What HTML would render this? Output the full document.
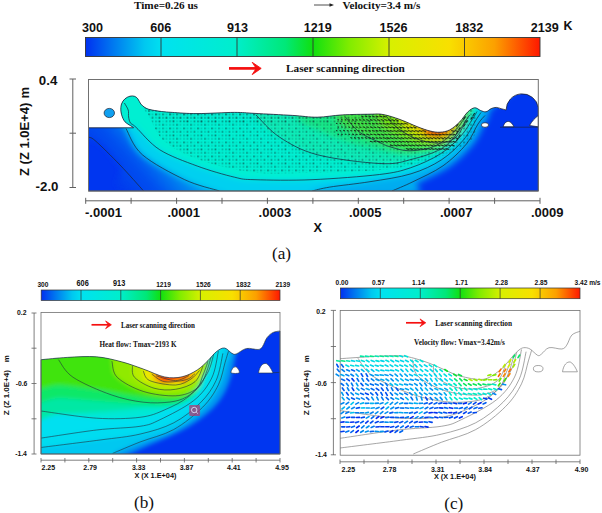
<!DOCTYPE html><html><head><meta charset="utf-8"><style>html,body{margin:0;padding:0;background:#fff;width:602px;height:513px;overflow:hidden;position:relative}</style></head><body><svg width="602" height="513" viewBox="0 0 602 513" style="position:absolute;left:0;top:0"><defs><linearGradient id="cmap" x1="0" y1="0" x2="1" y2="0"><stop offset="0" stop-color="#0030f0"/><stop offset="0.06" stop-color="#0078f0"/><stop offset="0.13" stop-color="#00c8f0"/><stop offset="0.17" stop-color="#00e2f0"/><stop offset="0.33" stop-color="#00eecc"/><stop offset="0.44" stop-color="#00e878"/><stop offset="0.5" stop-color="#10e010"/><stop offset="0.58" stop-color="#80ec00"/><stop offset="0.67" stop-color="#d8f000"/><stop offset="0.8" stop-color="#f8e000"/><stop offset="0.9" stop-color="#fca000"/><stop offset="1" stop-color="#ff1800"/></linearGradient><filter id="blA" x="-20%" y="-20%" width="140%" height="140%"><feGaussianBlur stdDeviation="3"/></filter><filter id="blB" x="-20%" y="-20%" width="140%" height="140%"><feGaussianBlur stdDeviation="2"/></filter><pattern id="dots" x="0.3" y="0.6" width="14" height="14" patternUnits="userSpaceOnUse"><rect x="1.0" y="1.0" width="1.5" height="1.5" fill="#0a3030" fill-opacity="0.72"/><rect x="1.0" y="4.5" width="1.5" height="1.5" fill="#0a3030" fill-opacity="0.21"/><rect x="1.0" y="8.0" width="1.5" height="1.5" fill="#0a3030" fill-opacity="0.47"/><rect x="1.0" y="11.5" width="1.5" height="1.5" fill="#0a3030" fill-opacity="0.30"/><rect x="4.5" y="1.0" width="1.5" height="1.5" fill="#0a3030" fill-opacity="0.26"/><rect x="4.5" y="4.5" width="1.5" height="1.5" fill="#0a3030" fill-opacity="0.59"/><rect x="4.5" y="8.0" width="1.5" height="1.5" fill="#0a3030" fill-opacity="0.77"/><rect x="4.5" y="11.5" width="1.5" height="1.5" fill="#0a3030" fill-opacity="0.38"/><rect x="8.0" y="1.0" width="1.5" height="1.5" fill="#0a3030" fill-opacity="0.51"/><rect x="8.0" y="4.5" width="1.5" height="1.5" fill="#0a3030" fill-opacity="0.34"/><rect x="8.0" y="8.0" width="1.5" height="1.5" fill="#0a3030" fill-opacity="0.17"/><rect x="8.0" y="11.5" width="1.5" height="1.5" fill="#0a3030" fill-opacity="0.68"/><rect x="11.5" y="1.0" width="1.5" height="1.5" fill="#0a3030" fill-opacity="0.17"/><rect x="11.5" y="4.5" width="1.5" height="1.5" fill="#0a3030" fill-opacity="0.64"/><rect x="11.5" y="8.0" width="1.5" height="1.5" fill="#0a3030" fill-opacity="0.42"/><rect x="11.5" y="11.5" width="1.5" height="1.5" fill="#0a3030" fill-opacity="0.26"/></pattern><clipPath id="clipA"><path d="M88.5,191 L88.5,127.8 L133.6,127.8 C133.6,127.3 130.8,126 129,124.8 C127.2,123.6 125.3,122.6 124,120.5 C122.7,118.4 121.4,114.8 121,112 C120.6,109.2 120.8,106.2 121.5,104 C122.2,101.8 123.6,100.1 125,98.8 C126.4,97.5 128.4,96.6 130,96.2 C131.6,95.8 133.2,95.9 134.5,96.3 C135.8,96.7 136.8,97.5 137.8,98.8 C138.9,100.1 139.6,102.5 140.8,104 C142,105.5 143.5,106.7 145,107.6 C146.5,108.5 147.5,109 150,109.6 C152.5,110.2 156.3,110.8 160,111.3 C163.7,111.8 166,112 172.2,112.4 C178.4,112.8 186.6,113.6 197,113.6 C207.4,113.6 224.8,112.4 234.5,112.4 C244.2,112.4 245.4,112.9 255,113.4 C264.6,113.9 281.9,114.8 292.3,115.4 C302.7,116 308.9,117.3 317.2,117.2 C325.5,117.1 333.3,115.4 342.1,114.9 C350.9,114.4 363.2,114.3 370,114.2 C376.8,114.1 378,113.6 383,114.5 C388,115.4 394.2,117.4 400,119.5 C405.8,121.6 413,125.1 418,127 C423,128.9 426.3,130.1 430,131 C433.7,131.9 436.7,132.4 440,132.2 C443.3,132 446.4,131.6 449.7,129.9 C453,128.2 456.7,124.9 459.7,121.9 C462.7,118.9 465.2,114.3 467.7,112 C470.2,109.7 472.5,108 474.6,107.8 C476.8,107.5 478.7,109.8 480.6,110.5 C482.5,111.2 484.2,112.1 486,111.8 C487.8,111.5 489.5,109.3 491.2,108.6 C492.9,107.9 494.5,107.4 496.2,107.4 C497.9,107.4 499.5,108.3 501.1,108.7 C502.8,109.1 505.3,109.8 506.1,110 A16.2,16.2 0 0 1 538.3,107.5 L538.3,191 Z"/></clipPath><clipPath id="clipB"><path d="M41,454 L41,359.7 C45.4,359.3 58,357.9 67.3,357.4 C76.5,356.9 87.5,356.1 96.5,356.8 C105.5,357.5 113.8,359.8 121.6,361.8 C129.4,363.8 136,366.5 143.2,369 C150.4,371.5 158.3,375.7 164.8,377 C171.3,378.3 176.7,378 182.1,376.8 C187.5,375.6 192.9,372.7 197.2,370 C201.5,367.3 204.8,363.6 208,360.5 C211.2,357.4 213.8,353.6 216.6,351.5 C219.3,349.4 222,347.7 224.5,348 C227,348.3 229.9,352.2 231.8,353.2 C233.8,354.2 233.8,354.8 236.2,354 C238.6,353.2 242.8,349.2 246.4,348.5 C250.1,347.8 255.4,349.8 258.1,349.5 C260.8,349.2 261,348.4 262.5,346.5 C264,344.6 265.1,340.1 266.9,337.8 C268.6,335.5 270.8,333.6 273,332.5 C275.2,331.4 278.8,331.2 280,331 L280,454 Z"/></clipPath><clipPath id="clipC"><path d="M340,455.2 L340,358.7 C345.8,358.3 365,356.9 375,356.4 C385,355.9 393.3,355.4 400,355.8 C406.7,356.2 410,357.2 415,358.5 C420,359.8 425,361.6 430,363.5 C435,365.4 440,367.9 445,370 C450,372.1 453.7,374.4 460,376 C466.3,377.6 476.5,380.2 483,379.4 C489.5,378.6 495,373.7 499,371 C503,368.3 504.6,365.6 507,363 C509.4,360.4 511.5,357.5 513.5,355.3 C515.5,353.1 517.3,351.3 519,350 C520.7,348.7 521.9,347.9 523.7,347.7 C525.5,347.5 527.7,347.7 530,349 C532.3,350.3 535.7,354.4 537.6,355.3 C539.5,356.2 539.5,355.4 541.4,354.1 C543.3,352.8 545.6,348.6 549,347.7 C552.4,346.8 558.8,349.4 561.7,349 C564.7,348.6 565,347.5 566.7,345.2 C568.4,342.9 569.6,337.4 571.8,335.1 C574,332.8 578.6,331.9 580,331.3 L580,455.2 Z"/></clipPath><linearGradient id="gA1" gradientUnits="userSpaceOnUse" x1="92" y1="188" x2="158" y2="130"><stop offset="0" stop-color="#002cea"/><stop offset="0.55" stop-color="#0050f0"/><stop offset="1" stop-color="#00acf0"/></linearGradient></defs><rect width="602" height="513" fill="#ffffff"/><text x="134" y="9.2" style="font-family:'Liberation Serif',serif;font-weight:bold;font-size:11.2px" fill="#111" >Time=0.26 us</text><line x1="314" y1="5" x2="331" y2="5" stroke="#222" stroke-width="0.8"/><path d="M334,5 L329.5,3.2 L329.5,6.8 Z" fill="#222"/><text x="342.4" y="9.2" style="font-family:'Liberation Serif',serif;font-weight:bold;font-size:11.2px" fill="#111" >Velocity=3.4 m/s</text><rect x="85.5" y="37.5" width="454.5" height="19" fill="url(#cmap)" stroke="#333" stroke-width="0.9"/><line x1="161" y1="37.5" x2="161" y2="56.5" stroke="#333" stroke-width="0.9"/><line x1="237" y1="37.5" x2="237" y2="56.5" stroke="#333" stroke-width="0.9"/><line x1="313" y1="37.5" x2="313" y2="56.5" stroke="#333" stroke-width="0.9"/><line x1="389" y1="37.5" x2="389" y2="56.5" stroke="#333" stroke-width="0.9"/><line x1="464.5" y1="37.5" x2="464.5" y2="56.5" stroke="#333" stroke-width="0.9"/><text x="82" y="32.2" style="font-family:'Liberation Sans',sans-serif;font-weight:bold;font-size:12.6px" fill="#111" >300</text><text x="150.2" y="32.2" style="font-family:'Liberation Sans',sans-serif;font-weight:bold;font-size:12.6px" fill="#111" >606</text><text x="227" y="32.2" style="font-family:'Liberation Sans',sans-serif;font-weight:bold;font-size:12.6px" fill="#111" >913</text><text x="303.8" y="32.2" style="font-family:'Liberation Sans',sans-serif;font-weight:bold;font-size:12.6px" fill="#111" >1219</text><text x="379.4" y="32.2" style="font-family:'Liberation Sans',sans-serif;font-weight:bold;font-size:12.6px" fill="#111" >1526</text><text x="455.3" y="32.2" style="font-family:'Liberation Sans',sans-serif;font-weight:bold;font-size:12.6px" fill="#111" >1832</text><text x="530.7" y="32.2" style="font-family:'Liberation Sans',sans-serif;font-weight:bold;font-size:12.6px" fill="#111" >2139</text><text x="563.6" y="29.8" style="font-family:'Liberation Sans',sans-serif;font-weight:bold;font-size:12.4px" fill="#111" >K</text><line x1="229" y1="68.4" x2="257" y2="68.4" stroke="#f51010" stroke-width="2.7"/><path d="M252.2,62.3 L261.2,68.4 L252.2,74.6 L256.2,68.4 Z" fill="#f51010" stroke="#f51010" stroke-width="0.9" stroke-linejoin="round"/><text x="286" y="71.6" style="font-family:'Liberation Serif',serif;font-weight:bold;font-size:11.3px" fill="#111" >Laser scanning direction</text><g clip-path="url(#clipA)"><path d="M88.5,191 L88.5,127.8 L133.6,127.8 C133.6,127.3 130.8,126 129,124.8 C127.2,123.6 125.3,122.6 124,120.5 C122.7,118.4 121.4,114.8 121,112 C120.6,109.2 120.8,106.2 121.5,104 C122.2,101.8 123.6,100.1 125,98.8 C126.4,97.5 128.4,96.6 130,96.2 C131.6,95.8 133.2,95.9 134.5,96.3 C135.8,96.7 136.8,97.5 137.8,98.8 C138.9,100.1 139.6,102.5 140.8,104 C142,105.5 143.5,106.7 145,107.6 C146.5,108.5 147.5,109 150,109.6 C152.5,110.2 156.3,110.8 160,111.3 C163.7,111.8 166,112 172.2,112.4 C178.4,112.8 186.6,113.6 197,113.6 C207.4,113.6 224.8,112.4 234.5,112.4 C244.2,112.4 245.4,112.9 255,113.4 C264.6,113.9 281.9,114.8 292.3,115.4 C302.7,116 308.9,117.3 317.2,117.2 C325.5,117.1 333.3,115.4 342.1,114.9 C350.9,114.4 363.2,114.3 370,114.2 C376.8,114.1 378,113.6 383,114.5 C388,115.4 394.2,117.4 400,119.5 C405.8,121.6 413,125.1 418,127 C423,128.9 426.3,130.1 430,131 C433.7,131.9 436.7,132.4 440,132.2 C443.3,132 446.4,131.6 449.7,129.9 C453,128.2 456.7,124.9 459.7,121.9 C462.7,118.9 465.2,114.3 467.7,112 C470.2,109.7 472.5,108 474.6,107.8 C476.8,107.5 478.7,109.8 480.6,110.5 C482.5,111.2 484.2,112.1 486,111.8 C487.8,111.5 489.5,109.3 491.2,108.6 C492.9,107.9 494.5,107.4 496.2,107.4 C497.9,107.4 499.5,108.3 501.1,108.7 C502.8,109.1 505.3,109.8 506.1,110 A16.2,16.2 0 0 1 538.3,107.5 L538.3,191 Z" fill="#0036f0"/><g filter="url(#blA)"><path d="M60,60 C-12.5,72.7 54.2,122.7 60,136 C65.8,149.3 85,135.2 95,140 C105,144.8 111.9,155.8 120,165 C128.1,174.2 97.6,190 143.6,195 C189.6,200 350.3,197 396,195 C441.7,193 409,187.8 418,183 C427,178.2 440.8,172.5 450,166 C459.2,159.5 467.3,151 473,144 C478.7,137 481.3,129.2 484,124 C486.7,118.8 487.2,123.7 489,113 C490.8,102.3 566.5,68.8 495,60 C423.5,51.2 132.5,47.3 60,60 Z" fill="url(#gA1)"/><path d="M100,60 C38,66.7 110.7,88.6 115,100 C119.3,111.4 121.5,119.5 126,128.6 C130.6,137.7 132.5,146.2 142.3,154.7 C152.1,163.2 171.8,173.5 184.7,179.7 C197.6,185.9 210.4,189.1 219.6,192 C228.8,194.9 226.6,196.2 240,197 C253.4,197.8 288,197.8 300,197 C312,196.2 307.2,193.7 312.2,192 C317.1,190.3 320.1,188.8 329.7,187.1 C339.3,185.4 356.3,183.9 370,181.7 C383.7,179.5 399.8,177.5 412,173.8 C424.2,170.2 434.2,165.5 443,159.8 C451.8,154.2 459.3,146.9 465,139.9 C470.7,132.9 474.3,123.7 477,118 C479.7,112.3 479.3,115.7 481,106 C482.7,96.3 550.5,67.7 487,60 C423.5,52.3 162,53.3 100,60 Z" fill="#00d0f0"/><path d="M112,60 C50.5,66.7 113,90.3 114,100 C115,109.7 115.7,113.7 118,118 C120.3,122.3 125,124.5 128,126 C131,127.5 130.7,123.3 136,127.3 C141.3,131.3 149.6,143.4 159.8,149.8 C170,156.2 184.7,161.4 197.1,166 C209.5,170.6 224.8,174.9 234.5,177.2 C244.2,179.5 242.1,179.3 255,179.7 C267.9,180.1 291.2,180.6 312,179.7 C332.8,178.8 363,176.5 379.5,174.5 C396,172.5 400.8,171.2 411,167.8 C421.2,164.4 432.5,159.1 441,153.8 C449.5,148.5 456.5,142.2 462,135.9 C467.5,129.6 471.3,121.3 474,116 C476.7,110.7 476.5,113.3 478,104 C479.5,94.7 544,67.3 483,60 C422,52.7 173.5,53.3 112,60 Z" fill="#06efd2"/><path d="M250,60 C213,69.2 251,102.1 256,115 C261,127.9 269.6,130.7 279.8,137.3 C290,143.9 300.6,150.3 317.2,154.7 C333.8,159.1 364.1,162.7 379.5,163.5 C394.9,164.3 398.9,162.8 409.9,159.8 C420.9,156.9 435.7,153.3 445.7,145.8 C455.7,138.3 465.1,122.1 469.7,115 C474.2,107.9 471.6,112.2 473,103 C474.4,93.8 515.2,67.2 478,60 C440.8,52.8 287,50.8 250,60 Z" fill="#08ecb8"/><path d="M288,60 C257.7,69.2 290.7,103.2 296,115 C301.3,126.8 311,126.3 320,131 C329,135.7 340.1,139.8 350,143 C359.9,146.2 369.5,148 379.5,150 C389.5,152 398.9,155.5 409.9,155 C420.9,154.5 435.7,153.7 445.7,147 C455.7,140.3 465.1,122.3 469.7,115 C474.2,107.7 471.6,112.2 473,103 C474.4,93.8 508.8,67.2 478,60 C447.2,52.8 318.3,50.8 288,60 Z" fill="#18e888"/><path d="M325,60 C302,69.3 331.5,104.3 336,116.1 C340.5,127.9 344.8,126.6 352,131 C359.2,135.4 373.2,139.7 379.5,142.3 C385.8,144.9 384.9,145.4 390,146.8 C395.1,148.2 402.3,151 409.9,150.8 C417.5,150.6 428.2,149.3 435.8,145.8 C443.4,142.3 450.7,134.9 455.7,129.9 C460.7,124.9 463.3,120.5 465.7,116 C468.1,111.5 468.6,112.3 470,103 C471.4,93.7 498.2,67.2 474,60 C449.8,52.8 348,50.6 325,60 Z" fill="#40e448"/><path d="M370,60 C354.7,69.7 373.8,105.7 378,118 C382.2,130.3 388,129.7 395,134 C402,138.3 412.2,142.2 420,144 C427.8,145.8 435.7,146.8 442,145 C448.3,143.2 454,138 458,133 C462,128 464,127.2 466,115 C468,102.8 486,69.2 470,60 C454,50.8 385.3,50.3 370,60 Z" fill="#78e818"/><path d="M395,100 C386.5,104 399.2,118.3 402,124 C404.8,129.7 407.8,131.5 412,134 C416.2,136.5 422,138 427,139 C432,140 438,140.8 442,140 C446,139.2 448.8,136.7 451,134 C453.2,131.3 454.7,129.7 455,124 C455.3,118.3 463,104 453,100 C443,96 403.5,96 395,100 Z" fill="#e0e800"/><path d="M412,110 C406.7,113 416.7,123.8 420,128 C423.3,132.2 427.7,133.8 432,135 C436.3,136.2 442.3,136.3 446,135 C449.7,133.7 453,131.2 454,127 C455,122.8 459,112.8 452,110 C445,107.2 417.3,107 412,110 Z" fill="#ff8800"/><ellipse cx="436" cy="133.2" rx="12" ry="3.6" fill="#f02800"/></g><path d="M148,107 C156.3,106 174.7,111 200,112 C225.3,113 270,113 300,113 C330,113 360,110 380,112 C400,114 405,125.7 420,125 C435,124.3 461.3,105.5 470,108 C478.7,110.5 478.7,131.3 472,140 C465.3,148.7 445.3,155 430,160 C414.7,165 401.7,167.8 380,170 C358.3,172.2 321.7,172.7 300,173 C278.3,173.3 266.7,174.2 250,172 C233.3,169.8 214.2,165 200,160 C185.8,155 173.3,149 165,142 C156.7,135 152.8,123.8 150,118 C147.2,112.2 139.7,108 148,107 Z" fill="url(#dots)"/><path d="M150,108 C157.5,107 175,111.2 200,112 C225,112.8 270,113 300,113 C330,113 360,110 380,112 C400,114 416.7,122 420,125 C423.3,128 406.7,130.2 400,130 C393.3,129.8 396.7,125 380,124 C363.3,123 330,124.2 300,124 C270,123.8 224.2,124 200,123 C175.8,122 163.3,120.5 155,118 C146.7,115.5 142.5,109 150,108 Z" fill="url(#dots)" opacity="0.6"/><path d="M361.2,116.0l2.3,0.7M364.8,116.0l2.5,0.8M368.4,116.0l2.6,0.8M372.0,116.0l2.8,0.9M375.6,116.0l2.9,0.9M379.2,116.0l3.0,0.9M382.8,116.0l3.2,1.0M472.8,116.0l1.9,-3.0M337.5,119.6l1.5,0.5M341.1,119.6l1.6,0.5M344.7,119.6l1.7,0.5M348.3,119.6l1.8,0.6M351.9,119.6l2.0,0.6M355.5,119.6l2.1,0.7M359.1,119.6l2.3,0.7M362.7,119.6l2.4,0.7M366.3,119.6l2.5,0.8M369.9,119.6l2.7,0.8M373.5,119.6l2.8,0.9M377.1,119.6l2.9,0.9M380.7,119.6l3.1,1.0M384.3,119.6l3.2,1.0M387.9,119.6l3.4,1.0M391.5,119.6l3.4,1.1M395.1,119.6l3.4,1.1M463.5,119.6l1.9,-3.0M470.7,119.6l1.9,-3.0M336.0,123.2l1.5,0.5M339.6,123.2l1.5,0.5M343.2,123.2l1.7,0.5M346.8,123.2l1.8,0.6M350.4,123.2l1.9,0.6M354.0,123.2l2.1,0.6M357.6,123.2l2.2,0.7M361.2,123.2l2.3,0.7M364.8,123.2l2.5,0.8M368.4,123.2l2.6,0.8M372.0,123.2l2.8,0.9M375.6,123.2l2.9,0.9M379.2,123.2l3.0,0.9M382.8,123.2l3.2,1.0M386.4,123.2l3.3,1.0M390.0,123.2l3.4,1.1M393.6,123.2l3.4,1.1M397.2,123.2l3.4,1.1M400.8,123.2l3.4,1.1M404.4,123.2l3.4,1.1M465.6,123.2l1.9,-3.0M337.5,126.8l1.5,0.5M341.1,126.8l1.6,0.5M344.7,126.8l1.7,0.5M348.3,126.8l1.8,0.6M351.9,126.8l2.0,0.6M355.5,126.8l2.1,0.7M359.1,126.8l2.3,0.7M362.7,126.8l2.4,0.7M366.3,126.8l2.5,0.8M369.9,126.8l2.7,0.8M373.5,126.8l2.8,0.9M377.1,126.8l2.9,0.9M380.7,126.8l3.1,1.0M384.3,126.8l3.2,1.0M387.9,126.8l3.4,1.0M391.5,126.8l3.4,1.1M395.1,126.8l3.4,1.1M398.7,126.8l3.4,1.1M402.3,126.8l3.4,1.1M405.9,126.8l3.4,1.1M409.5,126.8l3.4,1.1M413.1,126.8l3.4,1.1M456.3,126.8l1.9,-3.0M463.5,126.8l1.9,-3.0M336.0,130.4l1.5,0.5M339.6,130.4l1.5,0.5M343.2,130.4l1.7,0.5M346.8,130.4l1.8,0.6M350.4,130.4l1.9,0.6M354.0,130.4l2.1,0.6M357.6,130.4l2.2,0.7M361.2,130.4l2.3,0.7M364.8,130.4l2.5,0.8M368.4,130.4l2.6,0.8M372.0,130.4l2.8,0.9M375.6,130.4l2.9,0.9M379.2,130.4l3.0,0.9M382.8,130.4l3.2,1.0M386.4,130.4l3.3,1.0M390.0,130.4l3.4,1.1M393.6,130.4l3.4,1.1M397.2,130.4l3.4,1.1M400.8,130.4l3.4,1.1M404.4,130.4l3.4,1.1M408.0,130.4l3.4,1.1M411.6,130.4l3.4,1.1M415.2,130.4l3.4,1.1M418.8,130.4l3.4,1.1M422.4,130.4l3.4,1.1M451.2,130.4l3.4,1.1M454.8,130.4l3.4,1.1M458.4,130.4l1.9,-3.0M337.5,134.0l1.5,0.5M341.1,134.0l1.6,0.5M344.7,134.0l1.7,0.5M348.3,134.0l1.8,0.6M351.9,134.0l2.0,0.6M355.5,134.0l2.1,0.7M359.1,134.0l2.3,0.7M362.7,134.0l2.4,0.7M366.3,134.0l2.5,0.8M369.9,134.0l2.7,0.8M373.5,134.0l2.8,0.9M377.1,134.0l2.9,0.9M380.7,134.0l3.1,1.0M384.3,134.0l3.2,1.0M387.9,134.0l3.4,1.0M391.5,134.0l3.4,1.1M395.1,134.0l3.4,1.1M398.7,134.0l3.4,1.1M402.3,134.0l3.4,1.1M405.9,134.0l3.4,1.1M409.5,134.0l3.4,1.1M413.1,134.0l3.4,1.1M416.7,134.0l3.4,1.1M420.3,134.0l3.4,1.1M423.9,134.0l3.4,1.1M427.5,134.0l3.4,1.1M431.1,134.0l3.4,1.1M434.7,134.0l3.4,1.1M438.3,134.0l3.4,1.1M441.9,134.0l3.4,1.1M445.5,134.0l3.4,1.1M449.1,134.0l3.4,1.1M452.7,134.0l3.4,1.1M456.3,134.0l1.9,-3.0M350.4,137.6l1.9,0.6M354.0,137.6l2.1,0.6M357.6,137.6l2.2,0.7M361.2,137.6l2.3,0.7M364.8,137.6l2.5,0.8M368.4,137.6l2.6,0.8M372.0,137.6l2.8,0.9M375.6,137.6l2.9,0.9M379.2,137.6l3.0,0.9M382.8,137.6l3.2,1.0M386.4,137.6l3.3,1.0M390.0,137.6l3.4,1.1M393.6,137.6l3.4,1.1M397.2,137.6l3.4,1.1M400.8,137.6l3.4,1.1M404.4,137.6l3.4,1.1M408.0,137.6l3.4,1.1M411.6,137.6l3.4,1.1M415.2,137.6l3.4,1.1M418.8,137.6l3.4,1.1M422.4,137.6l3.4,1.1M426.0,137.6l3.4,1.1M429.6,137.6l3.4,1.1M433.2,137.6l3.4,1.1M436.8,137.6l3.4,1.1M440.4,137.6l3.4,1.1M444.0,137.6l3.4,1.1M447.6,137.6l3.4,1.1M451.2,137.6l3.4,1.1M454.8,137.6l3.4,1.1M458.4,137.6l1.9,-3.0M369.9,141.2l2.7,0.8M373.5,141.2l2.8,0.9M377.1,141.2l2.9,0.9M380.7,141.2l3.1,1.0M384.3,141.2l3.2,1.0M387.9,141.2l3.4,1.0M391.5,141.2l3.4,1.1M395.1,141.2l3.4,1.1M398.7,141.2l3.4,1.1M402.3,141.2l3.4,1.1M405.9,141.2l3.4,1.1M409.5,141.2l3.4,1.1M413.1,141.2l3.4,1.1M416.7,141.2l3.4,1.1M420.3,141.2l3.4,1.1M423.9,141.2l3.4,1.1M427.5,141.2l3.4,1.1M431.1,141.2l3.4,1.1M434.7,141.2l3.4,1.1M438.3,141.2l3.4,1.1M441.9,141.2l3.4,1.1M445.5,141.2l3.4,1.1M449.1,141.2l3.4,1.1M452.7,141.2l3.4,1.1M456.3,141.2l1.9,-3.0M390.0,144.8l3.4,1.1M393.6,144.8l3.4,1.1M397.2,144.8l3.4,1.1M400.8,144.8l3.4,1.1M404.4,144.8l3.4,1.1M408.0,144.8l3.4,1.1M411.6,144.8l3.4,1.1M415.2,144.8l3.4,1.1M418.8,144.8l3.4,1.1M422.4,144.8l3.4,1.1M426.0,144.8l3.4,1.1M429.6,144.8l3.4,1.1M433.2,144.8l3.4,1.1M436.8,144.8l3.4,1.1M440.4,144.8l3.4,1.1M444.0,144.8l3.4,1.1M447.6,144.8l3.4,1.1M451.2,144.8l3.4,1.1M405.9,148.4l3.4,1.1M409.5,148.4l3.4,1.1M413.1,148.4l3.4,1.1M416.7,148.4l3.4,1.1M420.3,148.4l3.4,1.1M423.9,148.4l3.4,1.1M427.5,148.4l3.4,1.1M431.1,148.4l3.4,1.1M434.7,148.4l3.4,1.1M438.3,148.4l3.4,1.1M441.9,148.4l3.4,1.1M445.5,148.4l3.4,1.1" stroke="#101810" stroke-width="1.1" fill="none" stroke-opacity="0.85"/><path d="M88,137.5 C89.2,138 89.7,135.9 95,140.5 C100.3,145.1 111.9,156.6 120,165 C128.1,173.4 139.7,186.7 143.6,191" fill="none" stroke="#1a2a40" stroke-width="0.75"/><path d="M126,128.6 C128.7,132.9 132.5,146.2 142.3,154.7 C152.1,163.2 171.8,173.6 184.7,179.7 C197.6,185.8 213.8,189.1 219.6,191" fill="none" stroke="#1a2a40" stroke-width="0.75"/><path d="M312.2,191 C315.1,190.3 320.1,188.7 329.7,187.1 C339.3,185.5 356.4,183.9 370,181.7 C383.6,179.5 399.1,177.5 411,173.8 C422.9,170.2 432.8,165.5 441.5,159.8 C450.2,154.2 457.8,146.5 463.5,139.9 C469.2,133.3 473.1,124.6 476,120 C478.9,115.4 480.2,113.8 481,112.5" fill="none" stroke="#1a2a40" stroke-width="0.75"/><path d="M124.4,103 C125,104.2 127.5,107.7 128.2,110 C128.9,112.3 128.2,114.8 128.6,117 C129,119.2 129.3,121.3 130.5,123 C131.7,124.7 131.1,122.8 136,127.3 C140.9,131.8 149.6,143.4 159.8,149.8 C170,156.2 184.7,161.4 197.1,166 C209.5,170.6 224.8,174.9 234.5,177.2 C244.2,179.5 242.1,179.3 255,179.7 C267.9,180.1 291.2,180.6 312,179.7 C332.8,178.8 363.1,176.5 379.5,174.5 C395.9,172.5 400.3,171.2 410.5,167.8 C420.7,164.4 432.1,159.1 440.5,153.8 C448.9,148.5 455.7,141.7 461,135.9 C466.3,130.1 469.8,123.1 472.5,119 C475.2,114.9 476.2,112.8 477,111.5" fill="none" stroke="#1a2a40" stroke-width="0.75"/><path d="M256,115 C260,118.7 269.6,130.7 279.8,137.3 C290,143.9 300.6,150.3 317.2,154.7 C333.8,159.1 364.1,162.7 379.5,163.5 C394.9,164.3 398.9,162.8 409.9,159.8 C420.9,156.9 435.7,153.3 445.7,145.8 C455.7,138.3 465.7,120.1 469.7,115" fill="none" stroke="#1a2a40" stroke-width="0.75"/><path d="M344.6,116.1 C347.1,118.8 353.8,127.9 359.6,132.3 C365.4,136.7 374.4,139.9 379.5,142.3 C384.6,144.7 384.9,145.4 390,146.8 C395.1,148.2 402.3,151 409.9,150.8 C417.5,150.6 428.2,149.3 435.8,145.8 C443.4,142.3 450.7,134.9 455.7,129.9 C460.7,124.9 464,118.3 465.7,116" fill="none" stroke="#1a2a40" stroke-width="0.75"/><path d="M392,191 C395.5,189.4 404.5,185.9 413,181.7 C421.5,177.5 434.1,172.1 443,165.8 C451.9,159.5 460.7,150.9 466.5,143.9 C472.3,136.9 474.9,128.7 478,124 C481.1,119.3 483.8,116.9 485,115.5" fill="none" stroke="#1a2a40" stroke-width="0.75"/><path d="M386,116 C388.3,118.3 394.3,126 400,130 C405.7,134 413,137.8 420,140 C427,142.2 435.8,143.7 442,143 C448.2,142.3 453,139.8 457,136 C461,132.2 464.5,122.7 466,120" fill="none" stroke="#1a2a40" stroke-width="0.75"/></g><path d="M88.5,191 L88.5,127.8 L133.6,127.8 C133.6,127.3 130.8,126 129,124.8 C127.2,123.6 125.3,122.6 124,120.5 C122.7,118.4 121.4,114.8 121,112 C120.6,109.2 120.8,106.2 121.5,104 C122.2,101.8 123.6,100.1 125,98.8 C126.4,97.5 128.4,96.6 130,96.2 C131.6,95.8 133.2,95.9 134.5,96.3 C135.8,96.7 136.8,97.5 137.8,98.8 C138.9,100.1 139.6,102.5 140.8,104 C142,105.5 143.5,106.7 145,107.6 C146.5,108.5 147.5,109 150,109.6 C152.5,110.2 156.3,110.8 160,111.3 C163.7,111.8 166,112 172.2,112.4 C178.4,112.8 186.6,113.6 197,113.6 C207.4,113.6 224.8,112.4 234.5,112.4 C244.2,112.4 245.4,112.9 255,113.4 C264.6,113.9 281.9,114.8 292.3,115.4 C302.7,116 308.9,117.3 317.2,117.2 C325.5,117.1 333.3,115.4 342.1,114.9 C350.9,114.4 363.2,114.3 370,114.2 C376.8,114.1 378,113.6 383,114.5 C388,115.4 394.2,117.4 400,119.5 C405.8,121.6 413,125.1 418,127 C423,128.9 426.3,130.1 430,131 C433.7,131.9 436.7,132.4 440,132.2 C443.3,132 446.4,131.6 449.7,129.9 C453,128.2 456.7,124.9 459.7,121.9 C462.7,118.9 465.2,114.3 467.7,112 C470.2,109.7 472.5,108 474.6,107.8 C476.8,107.5 478.7,109.8 480.6,110.5 C482.5,111.2 484.2,112.1 486,111.8 C487.8,111.5 489.5,109.3 491.2,108.6 C492.9,107.9 494.5,107.4 496.2,107.4 C497.9,107.4 499.5,108.3 501.1,108.7 C502.8,109.1 505.3,109.8 506.1,110 A16.2,16.2 0 0 1 538.3,107.5 L538.3,191 Z" fill="none" stroke="#1a2030" stroke-width="0.8"/><ellipse cx="109.3" cy="113" rx="5.2" ry="4.6" fill="#10a0f0" stroke="#1a2030" stroke-width="0.7"/><ellipse cx="485" cy="125" rx="3.6" ry="2.3" fill="#fff" stroke="#1a2030" stroke-width="0.7"/><path d="M503.2,126.8 C504.5,121 510,118.5 514,126.8 Z" fill="#fff" stroke="#1a2030" stroke-width="0.7"/><path d="M529.5,125.5 C532,121 535,118 538.3,115.5 L538.3,126.8 Z" fill="#fff" stroke="#1a2030" stroke-width="0.7"/><line x1="500" y1="127.2" x2="538" y2="127.2" stroke="#1a2030" stroke-width="0.6"/><rect x="88.5" y="79.5" width="449.8" height="111.5" fill="none" stroke="#707070" stroke-width="1"/><g stroke="#606060" stroke-width="1"><line x1="72.8" y1="79" x2="72.8" y2="187.5"/><line x1="69.5" y1="79" x2="76" y2="79"/><line x1="69.5" y1="133.2" x2="76" y2="133.2"/><line x1="69.5" y1="187.5" x2="76" y2="187.5"/></g><text x="38.8" y="84.8" style="font-family:'Liberation Sans',sans-serif;font-weight:bold;font-size:13.3px" fill="#111" >0.4</text><text x="35.6" y="190.8" style="font-family:'Liberation Sans',sans-serif;font-weight:bold;font-size:13.3px" fill="#111" >-2.0</text><text transform="translate(28.6,176) rotate(-90)" style="font-family:'Liberation Sans',sans-serif;font-weight:bold;font-size:13px" fill="#111">Z (Z 1.0E+4)</text><text transform="translate(28.6,98.5) rotate(-90)" style="font-family:'Liberation Sans',sans-serif;font-weight:bold;font-size:13px" fill="#111">m</text><g stroke="#606060" stroke-width="1"><line x1="85.7" y1="200.8" x2="540" y2="200.8"/><line x1="85.7" y1="197.8" x2="85.7" y2="203.8"/><line x1="131.1" y1="197.8" x2="131.1" y2="203.8"/><line x1="176.6" y1="197.8" x2="176.6" y2="203.8"/><line x1="222.0" y1="197.8" x2="222.0" y2="203.8"/><line x1="267.4" y1="197.8" x2="267.4" y2="203.8"/><line x1="312.9" y1="197.8" x2="312.9" y2="203.8"/><line x1="358.3" y1="197.8" x2="358.3" y2="203.8"/><line x1="403.7" y1="197.8" x2="403.7" y2="203.8"/><line x1="449.1" y1="197.8" x2="449.1" y2="203.8"/><line x1="494.6" y1="197.8" x2="494.6" y2="203.8"/><line x1="540.0" y1="197.8" x2="540.0" y2="203.8"/></g><text x="85" y="217.4" style="font-family:'Liberation Sans',sans-serif;font-weight:bold;font-size:13px" fill="#111" >-.0001</text><text x="167.5" y="217.4" style="font-family:'Liberation Sans',sans-serif;font-weight:bold;font-size:13px" fill="#111" >.0001</text><text x="258.6" y="217.4" style="font-family:'Liberation Sans',sans-serif;font-weight:bold;font-size:13px" fill="#111" >.0003</text><text x="349" y="217.4" style="font-family:'Liberation Sans',sans-serif;font-weight:bold;font-size:13px" fill="#111" >.0005</text><text x="440" y="217.4" style="font-family:'Liberation Sans',sans-serif;font-weight:bold;font-size:13px" fill="#111" >.0007</text><text x="531" y="217.4" style="font-family:'Liberation Sans',sans-serif;font-weight:bold;font-size:13px" fill="#111" >.0009</text><text x="313.4" y="231.5" style="font-family:'Liberation Sans',sans-serif;font-weight:bold;font-size:12.8px" fill="#111" >X</text><text x="272" y="258.7" style="font-family:'Liberation Serif',serif;font-size:17.2px" fill="#111" >(a)</text><rect x="41.2" y="290" width="238.8" height="10.4" fill="url(#cmap)" stroke="#333" stroke-width="0.7"/><line x1="81.0" y1="290" x2="81.0" y2="300.4" stroke="#333" stroke-width="0.7"/><line x1="120.8" y1="290" x2="120.8" y2="300.4" stroke="#333" stroke-width="0.7"/><line x1="160.6" y1="290" x2="160.6" y2="300.4" stroke="#333" stroke-width="0.7"/><line x1="200.4" y1="290" x2="200.4" y2="300.4" stroke="#333" stroke-width="0.7"/><line x1="240.2" y1="290" x2="240.2" y2="300.4" stroke="#333" stroke-width="0.7"/><text x="37.4" y="286.5" style="font-family:'Liberation Sans',sans-serif;font-weight:bold;font-size:6.6px" fill="#111" >300</text><text x="156.2" y="286.5" style="font-family:'Liberation Sans',sans-serif;font-weight:bold;font-size:6.6px" fill="#111" >1219</text><text x="196.1" y="286.5" style="font-family:'Liberation Sans',sans-serif;font-weight:bold;font-size:6.6px" fill="#111" >1526</text><text x="236" y="286.5" style="font-family:'Liberation Sans',sans-serif;font-weight:bold;font-size:6.6px" fill="#111" >1832</text><text x="275.4" y="286.5" style="font-family:'Liberation Sans',sans-serif;font-weight:bold;font-size:6.6px" fill="#111" >2139</text><text x="76.5" y="286.3" style="font-family:'Liberation Sans',sans-serif;font-weight:bold;font-size:8.6px" fill="#111" textLength="12.2" lengthAdjust="spacingAndGlyphs">606</text><text x="113" y="286.3" style="font-family:'Liberation Sans',sans-serif;font-weight:bold;font-size:8.6px" fill="#111" textLength="12.2" lengthAdjust="spacingAndGlyphs">913</text><g stroke="#606060" stroke-width="0.8"><line x1="34.1" y1="313" x2="34.1" y2="454"/><line x1="31.5" y1="313.0" x2="36.5" y2="313.0"/><line x1="31.5" y1="348.2" x2="36.5" y2="348.2"/><line x1="31.5" y1="383.5" x2="36.5" y2="383.5"/><line x1="31.5" y1="418.8" x2="36.5" y2="418.8"/><line x1="31.5" y1="454.0" x2="36.5" y2="454.0"/><line x1="41" y1="460.2" x2="280" y2="460.2"/><line x1="41.0" y1="458" x2="41.0" y2="462.5"/><line x1="64.9" y1="458" x2="64.9" y2="462.5"/><line x1="88.8" y1="458" x2="88.8" y2="462.5"/><line x1="112.7" y1="458" x2="112.7" y2="462.5"/><line x1="136.6" y1="458" x2="136.6" y2="462.5"/><line x1="160.5" y1="458" x2="160.5" y2="462.5"/><line x1="184.4" y1="458" x2="184.4" y2="462.5"/><line x1="208.3" y1="458" x2="208.3" y2="462.5"/><line x1="232.2" y1="458" x2="232.2" y2="462.5"/><line x1="256.1" y1="458" x2="256.1" y2="462.5"/><line x1="280.0" y1="458" x2="280.0" y2="462.5"/></g><g clip-path="url(#clipB)"><path d="M41,454 L41,359.7 C45.4,359.3 58,357.9 67.3,357.4 C76.5,356.9 87.5,356.1 96.5,356.8 C105.5,357.5 113.8,359.8 121.6,361.8 C129.4,363.8 136,366.5 143.2,369 C150.4,371.5 158.3,375.7 164.8,377 C171.3,378.3 176.7,378 182.1,376.8 C187.5,375.6 192.9,372.7 197.2,370 C201.5,367.3 204.8,363.6 208,360.5 C211.2,357.4 213.8,353.6 216.6,351.5 C219.3,349.4 222,347.7 224.5,348 C227,348.3 229.9,352.2 231.8,353.2 C233.8,354.2 233.8,354.8 236.2,354 C238.6,353.2 242.8,349.2 246.4,348.5 C250.1,347.8 255.4,349.8 258.1,349.5 C260.8,349.2 261,348.4 262.5,346.5 C264,344.6 265.1,340.1 266.9,337.8 C268.6,335.5 270.8,333.6 273,332.5 C275.2,331.4 278.8,331.2 280,331 L280,454 Z" fill="#0036f0"/><g filter="url(#blB)"><path d="M20,330 C-16.7,355 8.3,446.7 20,470 C31.7,493.3 73.3,472 90,470 C106.7,468 111.7,461.5 120,458 C128.3,454.5 129,454 140,449 C151,444 173.7,435 186,428 C198.3,421 207,414.2 214,407 C221,399.8 224.5,393.2 228,385 C231.5,376.8 233.2,365.5 235,358 C236.8,350.5 238.2,346.3 239,340 C239.8,333.7 276.5,321.7 240,320 C203.5,318.3 56.7,305 20,330 Z" fill="#0098f0"/><path d="M20,300 C-15.2,328.3 4.6,443 20,470 C35.4,497 96.8,464.8 112.6,462 C128.4,459.2 109.7,456.7 114.6,453.4 C119.5,450.1 131.8,446 142,442 C152.2,438 165.2,435.4 175.6,429.6 C186,423.8 197.2,414.7 204.7,407.2 C212.2,399.7 216.7,392.3 220.4,384.8 C224.1,377.3 225.4,368 227.1,362.4 C228.8,356.8 229.8,361.6 230.5,351.2 C231.2,340.8 266.1,308.5 231,300 C195.9,291.5 55.2,271.7 20,300 Z" fill="#00c8f0"/><path d="M20,300 C-14,324.6 16.5,422.9 20,447.5 C23.5,472.1 27.7,448.8 41,447.5 C54.3,446.2 83.5,442.2 100,440 C116.5,437.8 127.7,437 140,434.1 C152.3,431.2 163.5,428.1 173.6,422.9 C183.7,417.7 193.4,409.8 200.5,402.7 C207.6,395.6 212.5,388.5 216.2,380.3 C219.9,372.1 221.6,366.8 222.9,353.4 C224.2,340 257.7,308.9 223.9,300 C190.1,291.1 54,275.4 20,300 Z" fill="#00dcf0"/><path d="M20,300 C-13.2,323 16.5,415.1 20,438.1 C23.5,461.1 28.2,439.5 41,438.1 C53.8,436.8 80,432 96.5,430 C113,428 129.4,428 140,426.3 C150.6,424.6 151,424 160,419.7 C169,415.4 185.2,407.4 193.8,400.5 C202.4,393.6 207.6,386.3 211.7,378.1 C215.8,369.9 217.1,364.2 218.4,351.2 C219.7,338.2 252.5,308.5 219.4,300 C186.3,291.5 53.2,277 20,300 Z" fill="#00e0f0"/><path d="M20,300 C-12.5,318.5 16.5,392.5 20,411 C23.5,429.5 28.2,409.8 41,411 C53.8,412.2 80,417.1 96.5,418.2 C113,419.2 128.6,418.7 140,417.3 C151.4,415.9 156.6,413.4 164.8,409.8 C173,406.2 182.2,402 189.3,396 C196.4,390 203.1,380.7 207.2,373.6 C211.3,366.5 212.6,365.7 213.9,353.4 C215.2,341.1 247.2,308.9 214.9,300 C182.6,291.1 52.5,281.5 20,300 Z" fill="#00e8d4"/><path d="M20,300 C-11.7,319 13.3,395 20,414 C26.7,433 44.8,414.5 60,414 C75.2,413.5 97.2,412 111.1,411 C125,410 133.4,408.7 143.2,408 C153,407.3 162.8,408 170,407 C177.2,406 181.7,404.5 186.4,402 C191.1,399.5 194.9,396.2 198,392 C201.1,387.8 203.2,382.3 205,377 C206.8,371.7 208.2,372.8 209,360 C209.8,347.2 241.5,310 210,300 C178.5,290 51.7,281 20,300 Z" fill="#00e8a4"/><path d="M20,300 C-11.3,316.3 13.3,381.7 20,398 C26.7,414.3 44.8,397.3 60,398 C75.2,398.7 97.2,401 111.1,402 C125,403 133.4,403.7 143.2,404 C153,404.3 162.8,404.8 170,404 C177.2,403.2 182.1,401.3 186.4,399 C190.7,396.7 193.2,394 196,390 C198.8,386 201.2,380 203,375 C204.8,370 206.2,372.5 207,360 C207.8,347.5 239.2,310 208,300 C176.8,290 51.3,283.7 20,300 Z" fill="#10e868"/><path d="M20,300 C-11.2,314 13.3,369.8 20,384 C26.7,398.2 46.7,384 60,385 C73.3,386 86.1,388 100,390 C113.9,392 130.6,395.5 143.2,397 C155.8,398.5 167.5,399.8 175.6,399 C183.7,398.2 187.9,395.3 192,392 C196.1,388.7 197.8,383.3 200,379 C202.2,374.7 203.8,379.2 205,366 C206.2,352.8 237.8,311 207,300 C176.2,289 51.2,286 20,300 Z" fill="#40e410"/><path d="M108.9,300 C92.7,310.2 110.5,348.3 111.9,361.2 C113.3,374.1 112.1,372.4 117.3,377.4 C122.5,382.4 133.5,388.3 143.2,391.4 C152.9,394.5 166.8,396.2 175.6,395.8 C184.4,395.4 191.4,392.5 196,389 C200.6,385.5 201,379.6 203,375 C205,370.4 207,373.9 208,361.4 C209,348.9 225.5,310.2 209,300 C192.5,289.8 125.1,289.8 108.9,300 Z" fill="#90ea00"/><path d="M129.4,300 C117.5,310.9 131.5,352.6 132.4,365.5 C133.3,378.4 131,373.6 134.6,377.4 C138.2,381.2 147.2,386.2 154,388.2 C160.8,390.2 168.8,390.4 175.6,389.3 C182.4,388.2 190.4,385.6 195,381.7 C199.6,377.8 201.5,379.6 203,366 C204.5,352.4 216.3,311 204,300 C191.7,289 141.3,289.1 129.4,300 Z" fill="#b8ec00"/><path d="M140.2,300 C130.6,311.8 141.6,357.5 143.2,370.9 C144.8,384.3 144.3,378.2 149.7,380.6 C155.1,383 168.7,385.3 175.6,385 C182.5,384.7 187,381.4 191,379 C195,376.6 197.9,383.7 199.5,370.5 C201.1,357.3 210.4,311.8 200.5,300 C190.6,288.2 149.8,288.2 140.2,300 Z" fill="#ece800"/><path d="M148.8,300 C141.4,312.4 149.1,360.6 151.8,374.2 C154.5,387.8 159,380.8 164.8,381.7 C170.6,382.6 181.4,381 186.4,379.6 C191.4,378.2 193.4,386.8 195,373.5 C196.6,360.2 203.7,312.2 196,300 C188.3,287.8 156.2,287.6 148.8,300 Z" fill="#f8c000"/><path d="M153.2,300 C147.6,312.6 152.5,362.4 156.2,375.8 C159.9,389.2 170.1,380.7 175.6,380.6 C181.1,380.6 186.6,388.9 189,375.5 C191.4,362.1 196,312.6 190,300 C184,287.4 158.8,287.4 153.2,300 Z" fill="#ff7000"/><ellipse cx="170" cy="379" rx="9" ry="2.8" fill="#ff2800"/></g><path d="M112.6,453.4 C117.2,451.5 129.8,446 140,442 C150.2,438 163.2,435.4 173.6,429.6 C184,423.8 195.2,414.7 202.7,407.2 C210.2,399.7 214.7,392.3 218.4,384.8 C222.1,377.3 223.4,368 225.1,362.4 C226.8,356.8 227.9,353.1 228.5,351.2" fill="none" stroke="#203040" stroke-width="0.6"/><path d="M41,447.5 C50.8,446.2 83.5,442.2 100,440 C116.5,437.8 127.7,437 140,434.1 C152.3,431.2 163.5,428.1 173.6,422.9 C183.7,417.7 193.4,409.8 200.5,402.7 C207.6,395.6 212.5,388.5 216.2,380.3 C219.9,372.1 221.8,357.9 222.9,353.4" fill="none" stroke="#203040" stroke-width="0.6"/><path d="M41,438.1 C50.2,436.8 80,432 96.5,430 C113,428 129.4,428 140,426.3 C150.6,424.6 151,424 160,419.7 C169,415.4 185.2,407.4 193.8,400.5 C202.4,393.6 207.6,386.3 211.7,378.1 C215.8,369.9 217.3,355.7 218.4,351.2" fill="none" stroke="#203040" stroke-width="0.6"/><path d="M41,411 C50.2,412.2 80,417.1 96.5,418.2 C113,419.2 128.6,418.7 140,417.3 C151.4,415.9 156.6,413.4 164.8,409.8 C173,406.2 182.2,402 189.3,396 C196.4,390 203.1,380.7 207.2,373.6 C211.3,366.5 212.8,356.8 213.9,353.4" fill="none" stroke="#203040" stroke-width="0.6"/><path d="M58.5,359.7 C60.9,362.6 64.3,371.4 73.1,377.3 C81.9,383.2 99.4,390.7 111.1,394.8 C122.8,398.9 133.4,401 143.2,402.2 C153,403.4 162.8,402.9 170,402 C177.2,401.1 181.3,399.8 186.4,397 C191.5,394.2 197,389.5 200.5,385 C204,380.5 205.4,374.7 207.2,370 C208.9,365.3 210.4,359.2 211,357" fill="none" stroke="#203040" stroke-width="0.6"/><path d="M111.9,361.2 C112.8,363.9 112.1,372.4 117.3,377.4 C122.5,382.4 133.5,388.3 143.2,391.4 C152.9,394.5 166.8,396.2 175.6,395.8 C184.4,395.4 191.4,392.5 196,389 C200.6,385.5 201,379.6 203,375 C205,370.4 207.2,363.7 208,361.4" fill="none" stroke="#203040" stroke-width="0.6"/><path d="M132.4,365.5 C132.8,367.5 131,373.6 134.6,377.4 C138.2,381.2 147.2,386.2 154,388.2 C160.8,390.2 168.8,390.4 175.6,389.3 C182.4,388.2 190.4,385.6 195,381.7 C199.6,377.8 201.7,368.6 203,366" fill="none" stroke="#203040" stroke-width="0.6"/><path d="M143.2,370.9 C144.3,372.5 144.3,378.2 149.7,380.6 C155.1,383 168.7,385.3 175.6,385 C182.5,384.7 187,381.4 191,379 C195,376.6 198.1,371.9 199.5,370.5" fill="none" stroke="#203040" stroke-width="0.6"/><path d="M151.8,374.2 C154,375.4 159,380.8 164.8,381.7 C170.6,382.6 181.4,381 186.4,379.6 C191.4,378.2 193.6,374.5 195,373.5" fill="none" stroke="#203040" stroke-width="0.6"/><path d="M156.2,375.8 C159.4,376.6 170.1,380.7 175.6,380.6 C181.1,380.6 186.8,376.4 189,375.5" fill="none" stroke="#203040" stroke-width="0.6"/></g><path d="M41,454 L41,359.7 C45.4,359.3 58,357.9 67.3,357.4 C76.5,356.9 87.5,356.1 96.5,356.8 C105.5,357.5 113.8,359.8 121.6,361.8 C129.4,363.8 136,366.5 143.2,369 C150.4,371.5 158.3,375.7 164.8,377 C171.3,378.3 176.7,378 182.1,376.8 C187.5,375.6 192.9,372.7 197.2,370 C201.5,367.3 204.8,363.6 208,360.5 C211.2,357.4 213.8,353.6 216.6,351.5 C219.3,349.4 222,347.7 224.5,348 C227,348.3 229.9,352.2 231.8,353.2 C233.8,354.2 233.8,354.8 236.2,354 C238.6,353.2 242.8,349.2 246.4,348.5 C250.1,347.8 255.4,349.8 258.1,349.5 C260.8,349.2 261,348.4 262.5,346.5 C264,344.6 265.1,340.1 266.9,337.8 C268.6,335.5 270.8,333.6 273,332.5 C275.2,331.4 278.8,331.2 280,331 L280,454 Z" fill="none" stroke="#203040" stroke-width="0.7"/><path d="M230.8,372.6 C231.5,369.5 233.5,366.8 235.2,366.8 C237,366.8 239,369.5 239.6,372.6 C237.5,373.8 233,373.8 230.8,372.6 Z" fill="#fff" stroke="#203040" stroke-width="0.6"/><path d="M272.5,372.8 L280,372.3" stroke="#203040" stroke-width="0.6"/><path d="M258.5,373 C259.5,366 263,363 266,363.5 C268,364 271,368 273,373 Z" fill="#fff" stroke="#203040" stroke-width="0.6"/><rect x="41" y="312.4" width="239" height="141.6" fill="none" stroke="#707070" stroke-width="0.8"/><rect x="189.2" y="405.1" width="10.9" height="10.9" rx="1.2" fill="#b83870" fill-opacity="0.72"/><circle cx="194.2" cy="410" r="2.7" fill="none" stroke="#d8d8f0" stroke-width="0.9"/><line x1="196.2" y1="412" x2="197.8" y2="413.5" stroke="#d8d8f0" stroke-width="1"/><line x1="91.5" y1="324.8" x2="108.5" y2="324.8" stroke="#f51010" stroke-width="1.7"/><path d="M105.6,320.9 L111.4,324.8 L105.6,328.7 L108.2,324.8 Z" fill="#f51010" stroke="#f51010" stroke-width="0.7" stroke-linejoin="round"/><text x="121" y="327.6" style="font-family:'Liberation Serif',serif;font-weight:bold;font-size:7.4px" fill="#111" textLength="74" lengthAdjust="spacingAndGlyphs">Laser scanning direction</text><text x="99.5" y="346.6" style="font-family:'Liberation Serif',serif;font-weight:bold;font-size:7.4px" fill="#111" textLength="77" lengthAdjust="spacingAndGlyphs">Heat flow: Tmax=2193 K</text><text x="17" y="315.2" style="font-family:'Liberation Sans',sans-serif;font-weight:bold;font-size:6.8px" fill="#111" >0.2</text><text x="15.7" y="385.6" style="font-family:'Liberation Sans',sans-serif;font-weight:bold;font-size:6.8px" fill="#111" >-0.6</text><text x="15.2" y="455.6" style="font-family:'Liberation Sans',sans-serif;font-weight:bold;font-size:6.8px" fill="#111" >-1.4</text><text transform="translate(8.8,415.2) rotate(-90)" style="font-family:'Liberation Sans',sans-serif;font-weight:bold;font-size:8px" fill="#111">Z (Z 1.0E+4)</text><text transform="translate(8.8,362.2) rotate(-90)" style="font-family:'Liberation Sans',sans-serif;font-weight:bold;font-size:8px" fill="#111">m</text><text x="41.5" y="469.8" style="font-family:'Liberation Sans',sans-serif;font-weight:bold;font-size:7.0px" fill="#111" >2.25</text><text x="83.3" y="469.8" style="font-family:'Liberation Sans',sans-serif;font-weight:bold;font-size:7.0px" fill="#111" >2.79</text><text x="131.9" y="469.8" style="font-family:'Liberation Sans',sans-serif;font-weight:bold;font-size:7.0px" fill="#111" >3.33</text><text x="179.7" y="469.8" style="font-family:'Liberation Sans',sans-serif;font-weight:bold;font-size:7.0px" fill="#111" >3.87</text><text x="227.1" y="469.8" style="font-family:'Liberation Sans',sans-serif;font-weight:bold;font-size:7.0px" fill="#111" >4.41</text><text x="275.2" y="469.8" style="font-family:'Liberation Sans',sans-serif;font-weight:bold;font-size:7.0px" fill="#111" >4.95</text><text x="134.4" y="478.2" style="font-family:'Liberation Sans',sans-serif;font-weight:bold;font-size:7.3px" fill="#111" >X  (X 1.E+04)</text><text x="134" y="507.7" style="font-family:'Liberation Serif',serif;font-size:17.2px" fill="#111" >(b)</text><rect x="340.4" y="288" width="239.6" height="10.7" fill="url(#cmap)" stroke="#333" stroke-width="0.7"/><line x1="380.3" y1="288" x2="380.3" y2="298.7" stroke="#333" stroke-width="0.7"/><line x1="420.3" y1="288" x2="420.3" y2="298.7" stroke="#333" stroke-width="0.7"/><line x1="460.2" y1="288" x2="460.2" y2="298.7" stroke="#333" stroke-width="0.7"/><line x1="500.1" y1="288" x2="500.1" y2="298.7" stroke="#333" stroke-width="0.7"/><line x1="540.1" y1="288" x2="540.1" y2="298.7" stroke="#333" stroke-width="0.7"/><text x="335.6" y="285.2" style="font-family:'Liberation Sans',sans-serif;font-weight:bold;font-size:6.6px" fill="#111" >0.00</text><text x="372" y="285.2" style="font-family:'Liberation Sans',sans-serif;font-weight:bold;font-size:6.6px" fill="#111" >0.57</text><text x="412" y="285.2" style="font-family:'Liberation Sans',sans-serif;font-weight:bold;font-size:6.6px" fill="#111" >1.14</text><text x="455" y="285.2" style="font-family:'Liberation Sans',sans-serif;font-weight:bold;font-size:6.6px" fill="#111" >1.71</text><text x="495" y="285.2" style="font-family:'Liberation Sans',sans-serif;font-weight:bold;font-size:6.6px" fill="#111" >2.28</text><text x="534.6" y="285.2" style="font-family:'Liberation Sans',sans-serif;font-weight:bold;font-size:6.6px" fill="#111" >2.85</text><text x="574.5" y="285.2" style="font-family:'Liberation Sans',sans-serif;font-weight:bold;font-size:6.6px" fill="#111" >3.42 m/s</text><g stroke="#606060" stroke-width="0.8"><line x1="333.4" y1="310.4" x2="333.4" y2="455"/><line x1="330.8" y1="310.4" x2="336" y2="310.4"/><line x1="330.8" y1="346.5" x2="336" y2="346.5"/><line x1="330.8" y1="382.6" x2="336" y2="382.6"/><line x1="330.8" y1="418.7" x2="336" y2="418.7"/><line x1="330.8" y1="454.8" x2="336" y2="454.8"/><line x1="340" y1="461.8" x2="580" y2="461.8"/><line x1="340.0" y1="459.5" x2="340.0" y2="464"/><line x1="364.0" y1="459.5" x2="364.0" y2="464"/><line x1="388.0" y1="459.5" x2="388.0" y2="464"/><line x1="412.0" y1="459.5" x2="412.0" y2="464"/><line x1="436.0" y1="459.5" x2="436.0" y2="464"/><line x1="460.0" y1="459.5" x2="460.0" y2="464"/><line x1="484.0" y1="459.5" x2="484.0" y2="464"/><line x1="508.0" y1="459.5" x2="508.0" y2="464"/><line x1="532.0" y1="459.5" x2="532.0" y2="464"/><line x1="556.0" y1="459.5" x2="556.0" y2="464"/><line x1="580.0" y1="459.5" x2="580.0" y2="464"/></g><rect x="340.2" y="310.4" width="239.8" height="144.8" fill="none" stroke="#707070" stroke-width="0.8"/><path d="M340,358.7 C345.8,358.3 365,356.9 375,356.4 C385,355.9 393.3,355.4 400,355.8 C406.7,356.2 410,357.2 415,358.5 C420,359.8 425,361.6 430,363.5 C435,365.4 440,367.9 445,370 C450,372.1 453.7,374.4 460,376 C466.3,377.6 476.5,380.2 483,379.4 C489.5,378.6 495,373.7 499,371 C503,368.3 504.6,365.6 507,363 C509.4,360.4 511.5,357.5 513.5,355.3 C515.5,353.1 517.3,351.3 519,350 C520.7,348.7 521.9,347.9 523.7,347.7 C525.5,347.5 527.7,347.7 530,349 C532.3,350.3 535.7,354.4 537.6,355.3 C539.5,356.2 539.5,355.4 541.4,354.1 C543.3,352.8 545.6,348.6 549,347.7 C552.4,346.8 558.8,349.4 561.7,349 C564.7,348.6 565,347.5 566.7,345.2 C568.4,342.9 569.6,337.4 571.8,335.1 C574,332.8 578.6,331.9 580,331.3" fill="none" stroke="#808080" stroke-width="0.7"/><g clip-path="url(#clipC)"><path d="M413.3,454 C417.9,452 430.9,446.4 441.3,442.3 C451.7,438.3 465,435.6 475.7,429.6 C486.4,423.7 497.8,414.4 505.4,406.7 C513.1,399.1 517.7,391.5 521.5,383.8 C525.3,376.2 526.6,366.6 528.4,360.9 C530.1,355.2 531.3,351.4 531.8,349.5" fill="none" stroke="#808080" stroke-width="0.7"/><path d="M340,448 C350.1,446.7 383.5,442.6 400.4,440.3 C417.2,438 428.7,437.2 441.3,434.2 C453.8,431.3 465.3,428.1 475.7,422.8 C486,417.4 495.9,409.4 503.2,402.1 C510.4,394.9 515.4,387.6 519.2,379.2 C523.1,370.8 525,356.3 526.1,351.7" fill="none" stroke="#808080" stroke-width="0.7"/><path d="M340,438.3 C349.5,437 379.9,432.1 396.8,430.1 C413.7,428 430.5,428 441.3,426.3 C452.1,424.5 452.6,423.9 461.7,419.5 C470.9,415.1 487.5,407 496.3,399.9 C505.1,392.8 510.4,385.4 514.6,377 C518.8,368.6 520.4,354.1 521.5,349.5" fill="none" stroke="#808080" stroke-width="0.7"/><path d="M340,410.6 C349.5,411.9 379.9,416.9 396.8,418 C413.7,419.1 429.6,418.5 441.3,417.1 C452.9,415.6 458.3,413 466.7,409.4 C475.1,405.8 484.5,401.5 491.7,395.3 C499,389.1 505.8,379.6 510,372.4 C514.2,365.1 515.8,355.2 516.9,351.7" fill="none" stroke="#808080" stroke-width="0.7"/><path d="M357.9,358.2 C360.4,361.2 363.9,370.2 372.8,376.2 C381.8,382.1 399.8,389.8 411.7,394.1 C423.7,398.3 434.5,400.4 444.6,401.6 C454.6,402.9 464.6,402.3 472,401.4 C479.3,400.5 483.6,399.2 488.8,396.3 C494,393.4 499.6,388.6 503.2,384 C506.7,379.4 508.2,373.5 510,368.7 C511.8,363.9 513.3,357.6 513.9,355.4" fill="none" stroke="#808080" stroke-width="0.7"/><path d="M412.5,359.7 C413.5,362.5 412.7,371.1 418.1,376.3 C423.4,381.4 434.6,387.4 444.6,390.6 C454.5,393.7 468.7,395.5 477.7,395.1 C486.7,394.7 493.9,391.7 498.6,388.1 C503.3,384.6 503.7,378.5 505.7,373.8 C507.8,369.1 510,362.2 510.9,359.9" fill="none" stroke="#808080" stroke-width="0.7"/><path d="M433.5,364.1 C433.9,366.1 432.1,372.4 435.8,376.3 C439.4,380.1 448.6,385.3 455.6,387.3 C462.6,389.3 470.7,389.5 477.7,388.4 C484.7,387.3 492.9,384.6 497.6,380.7 C502.2,376.7 504.4,367.3 505.7,364.6" fill="none" stroke="#808080" stroke-width="0.7"/></g><ellipse cx="538.2" cy="368.7" rx="4.8" ry="3.2" fill="none" stroke="#808080" stroke-width="0.7"/><path d="M562.5,371.8 C563.5,364.6 567.1,361.5 570.2,362.0 C572.2,362.6 575.3,366.6 577.4,371.8 Z" fill="none" stroke="#808080" stroke-width="0.7"/><g stroke-width="1.65" stroke-linecap="round"><path d="M360.5,356.1l3.1,0.4" stroke="#03e9a3"/><path d="M365.4,356.1l3.1,0.4" stroke="#02e9af"/><path d="M370.3,356.1l3.1,0.4" stroke="#05e78d"/><path d="M375.2,356.0l3.1,0.5" stroke="#02eab4"/><path d="M380.1,356.0l3.1,0.5" stroke="#04e895"/><path d="M385.0,356.0l3.1,0.5" stroke="#03e9a0"/><path d="M389.9,356.0l3.1,0.5" stroke="#02eab5"/><path d="M394.8,356.0l3.1,0.5" stroke="#04e897"/><path d="M399.7,355.8l2.9,1.0" stroke="#00dfde"/><path d="M404.7,355.7l2.9,1.1" stroke="#00e4d8"/><path d="M513.1,357.6l1.7,-2.6" stroke="#08e565"/><path d="M518.0,357.6l1.7,-2.6" stroke="#08e564"/><path d="M336.8,360.7l3.0,0.6" stroke="#04e89c"/><path d="M341.7,360.8l3.1,0.4" stroke="#06e781"/><path d="M346.6,360.8l3.1,0.4" stroke="#02eab1"/><path d="M351.5,360.6l3.0,0.7" stroke="#00d7e7"/><path d="M356.4,360.7l3.0,0.6" stroke="#00dce1"/><path d="M361.4,360.4l2.9,1.1" stroke="#00e0dd"/><path d="M366.3,360.3l2.7,1.5" stroke="#00dbe2"/><path d="M371.2,360.4l2.9,1.2" stroke="#00d9e5"/><path d="M376.0,360.6l3.0,0.8" stroke="#00e0dc"/><path d="M380.9,360.6l3.0,0.8" stroke="#00d4ea"/><path d="M385.9,360.3l2.8,1.3" stroke="#00dfde"/><path d="M390.9,360.2l2.7,1.6" stroke="#00d8e6"/><path d="M395.7,360.4l2.9,1.2" stroke="#00d6e8"/><path d="M400.6,360.4l2.9,1.2" stroke="#00d5e9"/><path d="M405.5,360.3l2.8,1.4" stroke="#00d8e6"/><path d="M410.6,360.1l2.5,1.9" stroke="#00dedf"/><path d="M415.3,360.3l2.7,1.5" stroke="#00e1dc"/><path d="M420.3,360.2l2.7,1.5" stroke="#00e6d6"/><path d="M509.0,362.3l1.7,-2.6" stroke="#caee01"/><path d="M513.9,362.3l1.7,-2.6" stroke="#b7ed02"/><path d="M336.8,364.3l1.4,2.7" stroke="#0054f0"/><path d="M341.5,364.5l1.9,2.5" stroke="#006af0"/><path d="M345.9,365.1l2.8,1.3" stroke="#00dbe3"/><path d="M350.7,365.3l3.0,0.7" stroke="#00dedf"/><path d="M355.6,365.4l3.0,0.6" stroke="#00dae4"/><path d="M360.6,365.1l2.9,1.1" stroke="#00e0dd"/><path d="M365.5,365.0l2.7,1.5" stroke="#00d8e5"/><path d="M370.4,365.1l2.9,1.2" stroke="#00d7e7"/><path d="M375.2,365.3l3.0,0.8" stroke="#00d6e8"/><path d="M380.1,365.3l3.0,0.8" stroke="#00dedf"/><path d="M385.1,365.0l2.8,1.3" stroke="#00d5e9"/><path d="M390.1,364.9l2.7,1.6" stroke="#00d8e6"/><path d="M394.9,365.1l2.9,1.2" stroke="#00dae3"/><path d="M399.8,365.1l2.9,1.1" stroke="#00d8e6"/><path d="M404.7,365.0l2.8,1.4" stroke="#00dae4"/><path d="M409.8,364.8l2.5,1.9" stroke="#00dce2"/><path d="M414.8,364.6l2.2,2.2" stroke="#00d5e9"/><path d="M419.6,364.7l2.4,1.9" stroke="#00dae3"/><path d="M424.4,364.9l2.7,1.6" stroke="#00d6e8"/><path d="M429.3,364.9l2.6,1.7" stroke="#00e3d9"/><path d="M434.2,364.8l2.5,1.8" stroke="#00ebd0"/><path d="M503.3,367.0l1.7,-2.6" stroke="#baed02"/><path d="M508.2,367.0l1.7,-2.6" stroke="#d9ee00"/><path d="M513.1,367.0l1.7,-2.6" stroke="#a2eb04"/><path d="M337.3,369.2l1.9,2.4" stroke="#0073f0"/><path d="M341.9,369.5l2.5,1.8" stroke="#0080f0"/><path d="M346.7,369.8l2.8,1.2" stroke="#007ef0"/><path d="M351.6,369.8l2.9,1.1" stroke="#0067f0"/><path d="M356.6,369.6l2.7,1.6" stroke="#009ef0"/><path d="M361.5,369.5l2.5,1.8" stroke="#00b9f0"/><path d="M366.5,369.4l2.4,2.0" stroke="#00d2ec"/><path d="M371.4,369.5l2.5,1.8" stroke="#00c6f0"/><path d="M376.1,369.7l2.8,1.3" stroke="#00d1ee"/><path d="M380.9,370.1l3.0,0.7" stroke="#00d2ed"/><path d="M385.8,370.2l3.1,0.4" stroke="#00cdf0"/><path d="M390.7,370.1l3.0,0.7" stroke="#00d2ec"/><path d="M395.7,369.7l2.8,1.3" stroke="#00d5ea"/><path d="M400.9,369.3l2.2,2.1" stroke="#00c8f0"/><path d="M405.9,369.2l2.0,2.3" stroke="#00d5e9"/><path d="M410.7,369.3l2.3,2.1" stroke="#00c8f0"/><path d="M415.4,369.5l2.6,1.7" stroke="#00d1ee"/><path d="M420.4,369.4l2.4,1.9" stroke="#00dae3"/><path d="M425.2,369.6l2.7,1.6" stroke="#00d7e7"/><path d="M430.2,369.4l2.4,2.0" stroke="#00d8e6"/><path d="M435.3,369.2l2.0,2.4" stroke="#00dde0"/><path d="M439.9,369.5l2.5,1.8" stroke="#00e4d8"/><path d="M444.8,369.5l2.6,1.7" stroke="#0de12c"/><path d="M499.2,371.7l1.7,-2.6" stroke="#fb6b00"/><path d="M504.1,371.7l1.7,-2.6" stroke="#fa7f00"/><path d="M509.0,371.7l1.7,-2.6" stroke="#fb7000"/><path d="M336.2,374.2l2.6,1.7" stroke="#008ef0"/><path d="M341.0,374.5l2.9,1.2" stroke="#00a7f0"/><path d="M345.9,374.5l2.9,1.2" stroke="#0085f0"/><path d="M350.9,374.3l2.6,1.7" stroke="#0084f0"/><path d="M356.0,374.0l2.1,2.3" stroke="#00abf0"/><path d="M361.2,373.8l1.6,2.6" stroke="#0055f0"/><path d="M366.1,373.8l1.5,2.7" stroke="#005df0"/><path d="M370.3,374.6l2.9,1.1" stroke="#0097f0"/><path d="M375.2,374.8l3.0,0.6" stroke="#00a4f0"/><path d="M380.1,374.9l3.1,0.4" stroke="#00aaf0"/><path d="M385.0,374.7l3.0,0.8" stroke="#0099f0"/><path d="M390.0,374.4l2.7,1.5" stroke="#008cf0"/><path d="M395.1,374.1l2.4,2.0" stroke="#00a1f0"/><path d="M400.1,374.0l2.1,2.2" stroke="#009ef0"/><path d="M404.9,374.1l2.4,2.0" stroke="#00a8f0"/><path d="M409.6,374.4l2.8,1.4" stroke="#00bcf0"/><path d="M414.4,374.6l2.9,1.1" stroke="#00d2ed"/><path d="M419.3,374.6l2.9,1.1" stroke="#00d0ef"/><path d="M424.3,374.3l2.7,1.5" stroke="#00d1ee"/><path d="M429.5,374.0l2.2,2.2" stroke="#00d2ed"/><path d="M434.5,373.9l2.0,2.4" stroke="#00d5ea"/><path d="M439.4,373.9l1.9,2.4" stroke="#00dfdd"/><path d="M444.1,374.1l2.4,2.0" stroke="#00dedf"/><path d="M448.9,374.2l2.6,1.7" stroke="#00dfde"/><path d="M453.8,374.2l2.6,1.7" stroke="#0ce234"/><path d="M458.6,374.4l2.8,1.4" stroke="#0ae34f"/><path d="M487.9,375.5l3.0,-0.9" stroke="#96ea05"/><path d="M492.8,375.5l3.0,-0.9" stroke="#81e906"/><path d="M498.4,376.4l1.7,-2.6" stroke="#fc6200"/><path d="M503.3,376.4l1.7,-2.6" stroke="#fa8600"/><path d="M508.2,376.4l1.7,-2.6" stroke="#fa8500"/><path d="M341.8,379.2l2.8,1.3" stroke="#0067f0"/><path d="M346.8,378.9l2.5,1.8" stroke="#0049f0"/><path d="M352.0,378.6l2.0,2.4" stroke="#003df0"/><path d="M357.1,378.5l1.6,2.7" stroke="#006cf0"/><path d="M362.0,378.5l1.6,2.7" stroke="#0081f0"/><path d="M366.7,378.6l2.0,2.4" stroke="#0064f0"/><path d="M371.3,378.9l2.5,1.8" stroke="#0082f0"/><path d="M376.1,379.2l2.8,1.3" stroke="#0092f0"/><path d="M380.9,379.3l2.9,1.0" stroke="#00aaf0"/><path d="M386.0,379.0l2.6,1.7" stroke="#00a4f0"/><path d="M391.0,378.8l2.3,2.0" stroke="#0091f0"/><path d="M395.9,378.8l2.4,2.0" stroke="#00a4f0"/><path d="M400.7,378.9l2.5,1.8" stroke="#00bdf0"/><path d="M405.5,379.2l2.8,1.3" stroke="#00a4f0"/><path d="M410.3,379.4l3.0,0.8" stroke="#009bf0"/><path d="M415.3,379.2l2.9,1.1" stroke="#0093f0"/><path d="M420.3,379.0l2.6,1.7" stroke="#00b2f0"/><path d="M425.4,378.7l2.2,2.2" stroke="#00b1f0"/><path d="M430.5,378.5l1.7,2.6" stroke="#00cef0"/><path d="M435.4,378.5l1.8,2.5" stroke="#00d2ed"/><path d="M440.1,378.7l2.3,2.1" stroke="#00d0ef"/><path d="M444.9,378.8l2.4,2.0" stroke="#00d6e8"/><path d="M449.7,378.9l2.6,1.7" stroke="#00e0dd"/><path d="M454.7,378.8l2.4,2.0" stroke="#07e673"/><path d="M459.7,378.7l2.3,2.1" stroke="#09e45d"/><path d="M464.2,379.3l2.9,1.1" stroke="#0de12c"/><path d="M469.1,379.3l2.9,1.1" stroke="#afec03"/><path d="M474.0,379.3l2.9,1.1" stroke="#8eea05"/><path d="M478.9,379.3l3.0,0.9" stroke="#a7ec03"/><path d="M483.8,380.1l3.0,-0.7" stroke="#80e807"/><path d="M488.7,379.7l3.1,0.1" stroke="#9eeb04"/><path d="M493.6,380.0l3.1,-0.4" stroke="#86e906"/><path d="M499.2,381.1l1.7,-2.6" stroke="#67e708"/><path d="M504.1,381.1l1.7,-2.6" stroke="#40e30c"/><path d="M341.2,383.5l2.4,1.9" stroke="#006cf0"/><path d="M346.4,383.3l1.9,2.5" stroke="#0082f0"/><path d="M351.4,383.1l1.5,2.7" stroke="#0079f0"/><path d="M356.3,383.2l1.6,2.6" stroke="#00a0f0"/><path d="M360.9,383.4l2.1,2.2" stroke="#005bf0"/><path d="M365.6,383.7l2.6,1.6" stroke="#008df0"/><path d="M370.4,383.9l2.9,1.2" stroke="#006af0"/><path d="M375.3,383.9l2.8,1.2" stroke="#0079f0"/><path d="M380.3,383.6l2.6,1.7" stroke="#0074f0"/><path d="M385.5,383.3l2.0,2.3" stroke="#0078f0"/><path d="M390.2,383.5l2.4,1.9" stroke="#00bbf0"/><path d="M394.9,383.8l2.8,1.4" stroke="#00bef0"/><path d="M399.7,384.0l2.9,1.0" stroke="#00bcf0"/><path d="M404.6,384.1l3.0,0.8" stroke="#009ef0"/><path d="M409.5,384.0l2.9,1.0" stroke="#0097f0"/><path d="M414.6,383.6l2.6,1.7" stroke="#0097f0"/><path d="M419.8,383.3l2.1,2.3" stroke="#0096f0"/><path d="M424.8,383.2l1.8,2.5" stroke="#0096f0"/><path d="M429.6,383.3l2.0,2.4" stroke="#00abf0"/><path d="M434.3,383.5l2.4,2.0" stroke="#00b9f0"/><path d="M439.0,383.8l2.8,1.4" stroke="#00d4ea"/><path d="M443.9,383.9l2.9,1.2" stroke="#00cef0"/><path d="M448.8,383.8l2.8,1.4" stroke="#00ebd0"/><path d="M453.9,383.5l2.4,2.0" stroke="#00ebc6"/><path d="M458.9,383.4l2.2,2.2" stroke="#06e786"/><path d="M463.7,383.6l2.5,1.8" stroke="#09e45f"/><path d="M468.4,383.8l2.8,1.4" stroke="#0ae34e"/><path d="M473.3,383.9l2.9,1.2" stroke="#0ae457"/><path d="M478.3,383.7l2.7,1.6" stroke="#09e459"/><path d="M483.0,384.1l3.0,0.7" stroke="#08e56b"/><path d="M487.9,384.4l3.1,0.1" stroke="#06e780"/><path d="M492.8,384.2l3.0,0.7" stroke="#00ebc7"/><path d="M498.4,385.8l1.7,-2.6" stroke="#3fe30c"/><path d="M502.6,384.2l3.0,0.6" stroke="#0092f0"/><path d="M342.3,387.9l1.8,2.5" stroke="#005cf0"/><path d="M347.4,387.8l1.5,2.7" stroke="#0083f0"/><path d="M352.1,387.9l1.7,2.6" stroke="#0040f0"/><path d="M356.8,388.1l2.2,2.1" stroke="#00a4f0"/><path d="M361.4,388.4l2.7,1.5" stroke="#0070f0"/><path d="M366.3,388.6l2.9,1.1" stroke="#009cf0"/><path d="M371.2,388.6l2.8,1.3" stroke="#006af0"/><path d="M376.3,388.3l2.5,1.9" stroke="#0052f0"/><path d="M381.4,388.0l1.9,2.4" stroke="#0052f0"/><path d="M386.6,387.8l1.5,2.7" stroke="#0067f0"/><path d="M391.4,387.8l1.5,2.7" stroke="#007af0"/><path d="M396.1,388.0l2.0,2.4" stroke="#0053f0"/><path d="M400.5,388.8l3.0,0.7" stroke="#0096f0"/><path d="M405.5,388.6l2.9,1.1" stroke="#00a5f0"/><path d="M410.5,388.3l2.6,1.8" stroke="#00b2f0"/><path d="M415.7,388.0l2.0,2.4" stroke="#009cf0"/><path d="M420.7,387.9l1.8,2.5" stroke="#00a7f0"/><path d="M425.4,388.1l2.1,2.2" stroke="#00b6f0"/><path d="M430.1,388.3l2.5,1.8" stroke="#008ff0"/><path d="M434.9,388.5l2.8,1.3" stroke="#00b1f0"/><path d="M439.8,388.6l2.9,1.2" stroke="#00b9f0"/><path d="M444.8,388.4l2.7,1.6" stroke="#00adf0"/><path d="M449.9,388.1l2.3,2.1" stroke="#00ebc5"/><path d="M455.0,387.9l1.8,2.5" stroke="#00ead2"/><path d="M459.8,388.0l2.0,2.4" stroke="#00ebc5"/><path d="M464.5,388.2l2.4,1.9" stroke="#01ebc1"/><path d="M469.2,388.5l2.8,1.3" stroke="#00e5d7"/><path d="M474.0,388.8l3.0,0.8" stroke="#00e5d7"/><path d="M478.9,388.8l3.0,0.7" stroke="#00e9d2"/><path d="M483.8,389.1l3.1,0.2" stroke="#01ebc2"/><path d="M488.7,388.8l3.0,0.8" stroke="#00ebc8"/><path d="M493.7,388.5l2.8,1.3" stroke="#00ebd0"/><path d="M498.5,388.8l3.0,0.8" stroke="#005af0"/><path d="M341.7,392.5l1.5,2.7" stroke="#009af0"/><path d="M346.4,392.6l1.8,2.5" stroke="#0054f0"/><path d="M351.0,392.9l2.4,2.0" stroke="#0084f0"/><path d="M355.7,393.2l2.8,1.4" stroke="#00a2f0"/><path d="M360.6,393.3l2.9,1.1" stroke="#0064f0"/><path d="M365.5,393.2l2.8,1.3" stroke="#0045f0"/><path d="M370.6,392.9l2.4,1.9" stroke="#0064f0"/><path d="M375.8,392.6l1.8,2.5" stroke="#0052f0"/><path d="M380.9,392.5l1.5,2.7" stroke="#005ef0"/><path d="M385.7,392.6l1.6,2.7" stroke="#004ef0"/><path d="M390.4,392.8l2.1,2.3" stroke="#0074f0"/><path d="M395.0,393.1l2.6,1.7" stroke="#0094f0"/><path d="M399.8,393.2l2.8,1.4" stroke="#0094f0"/><path d="M404.8,393.1l2.7,1.5" stroke="#0074f0"/><path d="M409.8,392.9l2.4,2.0" stroke="#0090f0"/><path d="M414.9,392.7l1.9,2.4" stroke="#00b9f0"/><path d="M419.7,392.8l2.3,2.1" stroke="#0096f0"/><path d="M424.4,393.1l2.7,1.6" stroke="#00a2f0"/><path d="M429.2,393.3l2.9,1.2" stroke="#00a1f0"/><path d="M434.1,393.3l2.8,1.3" stroke="#00a0f0"/><path d="M439.1,393.0l2.6,1.7" stroke="#009cf0"/><path d="M444.2,392.8l2.1,2.3" stroke="#00aef0"/><path d="M449.3,392.6l1.8,2.5" stroke="#00e8d3"/><path d="M454.2,392.6l1.8,2.5" stroke="#00e6d6"/><path d="M458.8,392.9l2.4,2.0" stroke="#00e7d5"/><path d="M463.5,393.3l2.9,1.2" stroke="#00e4d8"/><path d="M468.3,393.5l3.0,0.8" stroke="#00ebc8"/><path d="M473.2,393.5l3.0,0.9" stroke="#01eabd"/><path d="M478.2,393.2l2.8,1.4" stroke="#00ebd0"/><path d="M483.1,393.3l2.8,1.2" stroke="#00e8d4"/><path d="M488.0,393.2l2.8,1.4" stroke="#00e6d6"/><path d="M492.9,393.2l2.8,1.3" stroke="#0082f0"/><path d="M342.2,397.4l1.9,2.4" stroke="#00a9f0"/><path d="M346.9,397.7l2.5,1.9" stroke="#007ef0"/><path d="M351.6,397.9l2.8,1.3" stroke="#0059f0"/><path d="M356.5,398.0l2.9,1.1" stroke="#008bf0"/><path d="M361.4,397.9l2.7,1.5" stroke="#0083f0"/><path d="M366.5,397.6l2.3,2.1" stroke="#0062f0"/><path d="M371.7,397.3l1.8,2.6" stroke="#0095f0"/><path d="M376.8,397.2l1.4,2.7" stroke="#008ef0"/><path d="M381.6,397.3l1.7,2.6" stroke="#007bf0"/><path d="M386.2,397.5l2.2,2.2" stroke="#0067f0"/><path d="M390.9,397.8l2.7,1.6" stroke="#007df0"/><path d="M395.7,398.0l2.9,1.2" stroke="#00aef0"/><path d="M400.7,397.8l2.7,1.6" stroke="#0070f0"/><path d="M405.8,397.5l2.3,2.1" stroke="#00b5f0"/><path d="M411.0,397.3l1.7,2.6" stroke="#006ef0"/><path d="M416.2,397.1l1.0,2.9" stroke="#0096f0"/><path d="M421.1,397.1l1.0,2.9" stroke="#0091f0"/><path d="M425.7,397.3l1.6,2.7" stroke="#0048f0"/><path d="M430.3,397.5l2.1,2.3" stroke="#0072f0"/><path d="M435.1,397.7l2.5,1.9" stroke="#0099f0"/><path d="M440.2,397.4l2.0,2.4" stroke="#0093f0"/><path d="M445.2,397.3l1.7,2.6" stroke="#00baf0"/><path d="M450.0,397.4l1.9,2.4" stroke="#00ead1"/><path d="M454.7,397.6l2.4,2.0" stroke="#00ebcd"/><path d="M459.4,398.0l2.9,1.2" stroke="#00e4d8"/><path d="M464.2,398.2l3.0,0.7" stroke="#00e4d8"/><path d="M469.1,398.1l2.9,1.0" stroke="#00ebce"/><path d="M474.2,397.8l2.7,1.6" stroke="#00e8d3"/><path d="M479.2,397.6l2.3,2.1" stroke="#00e4d8"/><path d="M483.8,398.2l3.0,0.9" stroke="#003ff0"/><path d="M488.8,397.9l2.7,1.4" stroke="#0034f0"/><path d="M341.0,404.0l2.8,-1.3" stroke="#0086f0"/><path d="M346.1,404.2l2.5,-1.9" stroke="#0081f0"/><path d="M351.0,404.3l2.4,-1.9" stroke="#00c7f0"/><path d="M355.8,404.1l2.7,-1.5" stroke="#0080f0"/><path d="M360.5,403.7l3.0,-0.8" stroke="#00b4f0"/><path d="M365.4,403.4l3.1,-0.2" stroke="#0085f0"/><path d="M370.3,403.3l3.1,0.0" stroke="#00b3f0"/><path d="M375.2,403.4l3.1,-0.3" stroke="#0090f0"/><path d="M380.1,403.8l2.9,-1.0" stroke="#008df0"/><path d="M385.2,404.1l2.6,-1.6" stroke="#00b4f0"/><path d="M390.2,404.3l2.4,-1.9" stroke="#0092f0"/><path d="M395.0,404.1l2.6,-1.7" stroke="#0091f0"/><path d="M399.7,403.7l3.0,-0.8" stroke="#009cf0"/><path d="M404.6,403.3l3.1,0.0" stroke="#006bf0"/><path d="M409.5,403.1l3.1,0.4" stroke="#009df0"/><path d="M414.4,403.1l3.1,0.4" stroke="#00b3f0"/><path d="M419.3,403.4l3.1,-0.2" stroke="#008bf0"/><path d="M424.2,403.8l3.0,-0.9" stroke="#005ef0"/><path d="M429.2,404.0l2.8,-1.3" stroke="#004bf0"/><path d="M434.1,403.9l2.8,-1.2" stroke="#0060f0"/><path d="M438.9,403.6l3.0,-0.7" stroke="#0052f0"/><path d="M443.8,403.3l3.1,0.1" stroke="#0030f0"/><path d="M448.7,403.0l3.0,0.6" stroke="#006df0"/><path d="M453.6,403.0l3.0,0.7" stroke="#0033f0"/><path d="M458.5,403.3l3.1,0.0" stroke="#0061f0"/><path d="M463.4,403.8l3.0,-0.9" stroke="#0028f0"/><path d="M468.5,404.1l2.7,-1.5" stroke="#006ef0"/><path d="M473.4,404.1l2.6,-1.7" stroke="#0045f0"/><path d="M478.2,404.0l2.8,-1.3" stroke="#0028f0"/><path d="M483.1,404.0l2.8,-1.3" stroke="#005bf0"/><path d="M342.0,409.0l2.4,-1.9" stroke="#00b3f0"/><path d="M346.9,408.9l2.5,-1.9" stroke="#0096f0"/><path d="M351.6,408.7l2.8,-1.4" stroke="#008bf0"/><path d="M356.4,408.3l3.0,-0.7" stroke="#0051f0"/><path d="M361.3,408.0l3.1,-0.1" stroke="#00c5f0"/><path d="M366.2,408.0l3.1,0.0" stroke="#00a0f0"/><path d="M371.1,408.2l3.1,-0.4" stroke="#009ff0"/><path d="M376.1,408.6l2.9,-1.2" stroke="#0083f0"/><path d="M381.1,408.9l2.6,-1.7" stroke="#0055f0"/><path d="M386.1,408.9l2.5,-1.9" stroke="#00aef0"/><path d="M390.9,408.8l2.7,-1.6" stroke="#0090f0"/><path d="M395.6,408.4l3.0,-0.9" stroke="#006ff0"/><path d="M400.5,408.0l3.1,0.1" stroke="#0071f0"/><path d="M405.4,407.8l3.1,0.4" stroke="#007ef0"/><path d="M410.3,407.9l3.1,0.2" stroke="#00a4f0"/><path d="M415.2,408.2l3.1,-0.4" stroke="#0087f0"/><path d="M420.1,408.5l2.9,-1.1" stroke="#00a5f0"/><path d="M425.1,408.7l2.7,-1.4" stroke="#0070f0"/><path d="M430.0,408.6l2.9,-1.2" stroke="#005cf0"/><path d="M434.8,408.3l3.1,-0.5" stroke="#0054f0"/><path d="M439.7,407.9l3.1,0.2" stroke="#0037f0"/><path d="M444.6,407.6l3.0,0.7" stroke="#0068f0"/><path d="M449.5,407.7l3.0,0.6" stroke="#0028f0"/><path d="M454.4,408.0l3.1,0.1" stroke="#0075f0"/><path d="M459.3,408.5l3.0,-0.9" stroke="#005ef0"/><path d="M464.4,408.8l2.7,-1.6" stroke="#0071f0"/><path d="M469.3,408.8l2.6,-1.6" stroke="#004df0"/><path d="M474.1,408.6l2.9,-1.2" stroke="#0065f0"/><path d="M478.9,408.3l3.1,-0.5" stroke="#0048f0"/><path d="M341.1,413.6l2.5,-1.8" stroke="#0087f0"/><path d="M345.9,413.3l2.8,-1.3" stroke="#0071f0"/><path d="M350.7,413.0l3.1,-0.5" stroke="#00c5f0"/><path d="M355.6,412.7l3.1,-0.0" stroke="#007bf0"/><path d="M360.5,412.7l3.1,-0.0" stroke="#008af0"/><path d="M365.4,413.0l3.0,-0.6" stroke="#009cf0"/><path d="M370.4,413.4l2.8,-1.3" stroke="#0081f0"/><path d="M375.4,413.6l2.5,-1.8" stroke="#0090f0"/><path d="M380.4,413.6l2.5,-1.9" stroke="#008bf0"/><path d="M385.1,413.4l2.7,-1.5" stroke="#0090f0"/><path d="M389.9,413.1l3.0,-0.7" stroke="#005ef0"/><path d="M394.8,412.7l3.1,-0.1" stroke="#0095f0"/><path d="M399.7,412.5l3.1,0.3" stroke="#00a8f0"/><path d="M404.6,412.7l3.1,0.0" stroke="#008ff0"/><path d="M409.5,413.1l3.0,-0.7" stroke="#006af0"/><path d="M414.5,413.3l2.8,-1.3" stroke="#0055f0"/><path d="M419.4,413.4l2.7,-1.5" stroke="#00bbf0"/><path d="M424.3,413.3l2.9,-1.2" stroke="#0068f0"/><path d="M429.1,412.9l3.1,-0.4" stroke="#0028f0"/><path d="M434.0,412.5l3.1,0.4" stroke="#0030f0"/><path d="M438.9,412.3l3.0,0.8" stroke="#006ef0"/><path d="M443.8,412.4l3.0,0.6" stroke="#004ff0"/><path d="M448.7,412.7l3.1,-0.1" stroke="#0028f0"/><path d="M453.6,413.1l3.0,-0.9" stroke="#0037f0"/><path d="M458.6,413.4l2.7,-1.5" stroke="#004ef0"/><path d="M463.6,413.5l2.7,-1.6" stroke="#0041f0"/><path d="M468.3,413.2l2.9,-1.1" stroke="#0053f0"/><path d="M473.2,412.8l3.1,-0.3" stroke="#0047f0"/><path d="M341.8,418.0l2.9,-1.1" stroke="#0088f0"/><path d="M346.6,417.6l3.1,-0.4" stroke="#0037f0"/><path d="M351.5,417.4l3.1,0.0" stroke="#004ef0"/><path d="M356.4,417.5l3.1,-0.1" stroke="#002ef0"/><path d="M361.3,417.8l3.0,-0.7" stroke="#0048f0"/><path d="M366.3,418.1l2.7,-1.5" stroke="#0094f0"/><path d="M371.4,418.4l2.4,-1.9" stroke="#006cf0"/><path d="M376.3,418.3l2.5,-1.8" stroke="#002bf0"/><path d="M381.0,418.1l2.8,-1.3" stroke="#0028f0"/><path d="M385.8,417.7l3.0,-0.6" stroke="#0068f0"/><path d="M390.7,417.4l3.1,-0.0" stroke="#0046f0"/><path d="M395.6,417.4l3.1,0.1" stroke="#0065f0"/><path d="M400.5,417.5l3.1,-0.1" stroke="#0044f0"/><path d="M405.4,417.8l3.0,-0.9" stroke="#0076f0"/><path d="M410.4,418.1l2.7,-1.5" stroke="#0028f0"/><path d="M415.3,418.1l2.7,-1.5" stroke="#0084f0"/><path d="M420.1,417.9l2.9,-1.1" stroke="#0071f0"/><path d="M425.0,417.6l3.1,-0.4" stroke="#003cf0"/><path d="M429.9,417.2l3.1,0.5" stroke="#0072f0"/><path d="M434.8,417.0l3.0,0.8" stroke="#0038f0"/><path d="M439.7,417.2l3.1,0.5" stroke="#0062f0"/><path d="M444.6,417.5l3.1,-0.2" stroke="#004ef0"/><path d="M449.5,417.9l2.9,-1.0" stroke="#004bf0"/><path d="M454.5,418.1l2.8,-1.4" stroke="#0045f0"/><path d="M459.4,418.1l2.8,-1.4" stroke="#0033f0"/><path d="M340.9,422.2l3.1,-0.3" stroke="#0031f0"/><path d="M345.8,422.1l3.1,0.1" stroke="#0088f0"/><path d="M350.7,422.2l3.1,-0.2" stroke="#002df0"/><path d="M355.6,422.6l3.0,-0.9" stroke="#0049f0"/><path d="M360.7,422.9l2.7,-1.6" stroke="#0058f0"/><path d="M365.7,423.1l2.4,-1.9" stroke="#0034f0"/><path d="M370.5,423.0l2.5,-1.8" stroke="#004ef0"/><path d="M375.3,422.7l2.9,-1.2" stroke="#0042f0"/><path d="M380.1,422.3l3.1,-0.4" stroke="#005ff0"/><path d="M385.0,422.1l3.1,0.1" stroke="#008ef0"/><path d="M389.9,422.1l3.1,0.0" stroke="#0090f0"/><path d="M394.8,422.4l3.1,-0.6" stroke="#004bf0"/><path d="M399.8,422.7l2.9,-1.1" stroke="#004ef0"/><path d="M404.8,422.9l2.7,-1.6" stroke="#0078f0"/><path d="M409.7,422.9l2.6,-1.6" stroke="#0048f0"/><path d="M414.4,422.6l2.9,-1.0" stroke="#0050f0"/><path d="M419.3,422.2l3.1,-0.2" stroke="#0030f0"/><path d="M424.2,421.9l3.1,0.5" stroke="#0073f0"/><path d="M429.1,421.7l3.0,0.7" stroke="#0045f0"/><path d="M341.7,426.8l3.1,0.0" stroke="#004cf0"/><path d="M346.6,427.0l3.1,-0.3" stroke="#0037f0"/><path d="M351.5,427.3l2.9,-1.1" stroke="#0068f0"/><path d="M356.6,427.7l2.6,-1.7" stroke="#002bf0"/><path d="M361.6,427.8l2.4,-2.0" stroke="#007df0"/><path d="M366.4,427.7l2.6,-1.7" stroke="#008ff0"/><path d="M371.2,427.4l2.9,-1.1" stroke="#0077f0"/><path d="M376.0,427.0l3.1,-0.3" stroke="#0034f0"/><path d="M380.9,426.7l3.1,0.1" stroke="#0039f0"/><path d="M385.8,426.8l3.1,-0.1" stroke="#002ff0"/><path d="M390.7,427.2l3.0,-0.7" stroke="#0045f0"/><path d="M395.7,427.5l2.7,-1.4" stroke="#0054f0"/><path d="M400.7,427.6l2.6,-1.6" stroke="#0075f0"/><path d="M405.6,427.6l2.7,-1.6" stroke="#003af0"/><path d="M410.3,427.3l2.9,-1.0" stroke="#005ef0"/><path d="M415.2,426.8l3.1,-0.1" stroke="#0070f0"/><path d="M420.1,426.5l3.1,0.5" stroke="#003ef0"/><path d="M425.0,426.5l3.0,0.6" stroke="#002cf0"/><path d="M340.9,431.7l3.1,-0.4" stroke="#003bf0"/><path d="M345.9,432.1l2.9,-1.2" stroke="#0077f0"/><path d="M350.9,432.4l2.5,-1.8" stroke="#0063f0"/><path d="M355.9,432.5l2.4,-1.9" stroke="#0028f0"/><path d="M360.7,432.3l2.6,-1.6" stroke="#0085f0"/><path d="M365.4,432.0l2.9,-1.0" stroke="#0092f0"/><path d="M370.3,431.6l3.1,-0.3" stroke="#0062f0"/><path d="M375.2,431.4l3.1,0.1" stroke="#0090f0"/><path d="M380.1,431.6l3.1,-0.2" stroke="#0093f0"/><path d="M385.0,431.9l3.0,-0.9" stroke="#004ff0"/><path d="M390.1,432.3l2.7,-1.6" stroke="#002ff0"/><path d="M395.1,432.4l2.5,-1.9" stroke="#004ef0"/><path d="M399.9,432.3l2.7,-1.6" stroke="#0066f0"/></g><line x1="406" y1="322.8" x2="423" y2="322.8" stroke="#f51010" stroke-width="1.7"/><path d="M420,318.9 L425.8,322.8 L420,326.7 L422.6,322.8 Z" fill="#f51010" stroke="#f51010" stroke-width="0.7" stroke-linejoin="round"/><text x="435.3" y="325.8" style="font-family:'Liberation Serif',serif;font-weight:bold;font-size:7.3px" fill="#111" >Laser scanning direction</text><text x="414.1" y="345.2" style="font-family:'Liberation Serif',serif;font-weight:bold;font-size:7.3px" fill="#111" >Velocity flow: Vmax=3.42m/s</text><text x="316.2" y="313.8" style="font-family:'Liberation Sans',sans-serif;font-weight:bold;font-size:6.8px" fill="#111" >0.2</text><text x="315.2" y="385.6" style="font-family:'Liberation Sans',sans-serif;font-weight:bold;font-size:6.8px" fill="#111" >-0.6</text><text x="315.2" y="456.6" style="font-family:'Liberation Sans',sans-serif;font-weight:bold;font-size:6.8px" fill="#111" >-1.4</text><text transform="translate(308.8,415.2) rotate(-90)" style="font-family:'Liberation Sans',sans-serif;font-weight:bold;font-size:8px" fill="#111">Z (Z 1.0E+4)</text><text transform="translate(308.8,362.2) rotate(-90)" style="font-family:'Liberation Sans',sans-serif;font-weight:bold;font-size:8px" fill="#111">m</text><text x="341.5" y="471.6" style="font-family:'Liberation Sans',sans-serif;font-weight:bold;font-size:7.0px" fill="#111" >2.25</text><text x="382.7" y="471.6" style="font-family:'Liberation Sans',sans-serif;font-weight:bold;font-size:7.0px" fill="#111" >2.78</text><text x="430.9" y="471.6" style="font-family:'Liberation Sans',sans-serif;font-weight:bold;font-size:7.0px" fill="#111" >3.31</text><text x="478.3" y="471.6" style="font-family:'Liberation Sans',sans-serif;font-weight:bold;font-size:7.0px" fill="#111" >3.84</text><text x="526" y="471.6" style="font-family:'Liberation Sans',sans-serif;font-weight:bold;font-size:7.0px" fill="#111" >4.37</text><text x="574.7" y="471.6" style="font-family:'Liberation Sans',sans-serif;font-weight:bold;font-size:7.0px" fill="#111" >4.90</text><text x="433.9" y="479" style="font-family:'Liberation Sans',sans-serif;font-weight:bold;font-size:7.3px" fill="#111" >X  (X 1.E+04)</text><text x="444.2" y="508.6" style="font-family:'Liberation Serif',serif;font-size:17.2px" fill="#111" >(c)</text></svg></body></html>
